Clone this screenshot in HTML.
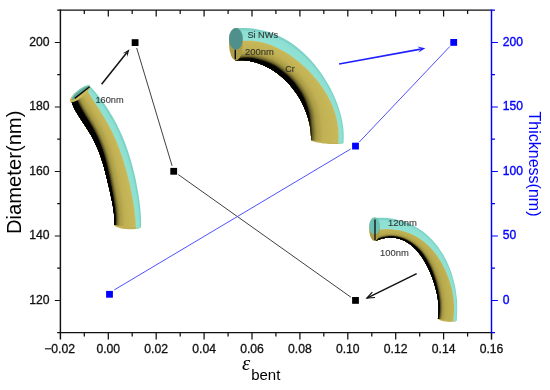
<!DOCTYPE html>
<html lang="en"><head><meta charset="utf-8"><title>Diameter and thickness vs bending strain</title>
<style>html,body{margin:0;padding:0;background:#fff;}body{width:550px;height:390px;overflow:hidden;}svg{display:block;filter:blur(0.3px);}</style>
</head><body>
<svg width="550" height="390" viewBox="0 0 550 390" font-family="'Liberation Sans', Arial, sans-serif">
<rect width="550" height="390" fill="#fff"/>
<path d="M114.2,224.9L114.4,225.4L114.8,225.8L115.4,226.3L116.2,226.8L117.2,227.2L118.4,227.6L119.8,228.0L121.3,228.4L122.9,228.7L124.6,228.9L126.3,229.1L128.0,229.2L129.8,229.3L131.5,229.3L133.2,229.3L134.7,229.1L136.2,229.0L137.5,228.7L138.6,228.4L139.5,228.1L140.3,227.7L140.8,227.3L141.1,226.9L141.1,226.4Z" fill="#c1b154"/><path d="M135.7,226.8L136.2,229.0L137.5,228.7L138.6,228.4L139.5,228.1L140.3,227.7L140.8,227.3L141.1,226.9L141.1,226.4Z" fill="#8bdfd1"/>
<path d="M88.6,84.5L91.5,87.8L94.4,91.1L97.2,94.5L100.0,98.0L102.6,101.5L105.2,105.1L107.7,108.8L110.0,112.5L112.3,116.3L114.5,120.2L116.6,124.1L118.5,128.0L120.4,132.0L122.2,136.1L123.9,140.1L125.5,144.3L127.0,148.4L128.4,152.6L129.7,156.8L131.0,161.1L132.2,165.3L133.3,169.6L134.4,173.9L135.4,178.2L136.3,182.5L137.1,186.9L137.9,191.2L138.6,195.6L139.3,200.0L139.8,204.3L140.3,208.7L140.7,213.1L141.0,217.5L141.1,222.0L141.1,226.4L135.7,226.8L135.6,222.5L135.3,218.2L134.9,214.0L134.4,209.7L133.8,205.5L133.1,201.3L132.4,197.1L131.6,192.9L130.7,188.7L129.8,184.5L128.8,180.3L127.8,176.2L126.7,172.0L125.5,167.9L124.3,163.7L123.1,159.6L121.7,155.6L120.3,151.5L118.9,147.5L117.3,143.5L115.6,139.6L113.9,135.7L112.1,131.8L110.1,128.0L108.1,124.3L106.0,120.5L103.9,116.9L101.6,113.2L99.4,109.6L97.0,106.0L94.7,102.4L92.4,98.8L90.1,95.2L87.8,91.6L85.7,87.9Z" fill="#7cd2c5"/>
<path d="M87.8,85.4L90.6,88.7L93.3,92.1L96.0,95.6L98.6,99.1L101.2,102.6L103.7,106.2L106.2,109.9L108.5,113.6L110.7,117.4L112.9,121.2L115.0,125.1L116.9,129.0L118.8,132.9L120.5,136.9L122.2,141.0L123.8,145.1L125.3,149.2L126.7,153.3L128.1,157.5L129.3,161.7L130.5,166.0L131.7,170.2L132.7,174.5L133.7,178.7L134.7,183.0L135.5,187.3L136.3,191.6L137.1,196.0L137.7,200.3L138.3,204.6L138.8,209.0L139.3,213.3L139.6,217.7L139.7,222.1L139.8,226.5L135.7,226.8L135.6,222.5L135.3,218.2L134.9,214.0L134.4,209.7L133.8,205.5L133.1,201.3L132.4,197.1L131.6,192.9L130.7,188.7L129.8,184.5L128.8,180.3L127.8,176.2L126.7,172.0L125.5,167.9L124.3,163.7L123.1,159.6L121.7,155.6L120.3,151.5L118.9,147.5L117.3,143.5L115.6,139.6L113.9,135.7L112.1,131.8L110.1,128.0L108.1,124.3L106.0,120.5L103.9,116.9L101.6,113.2L99.4,109.6L97.0,106.0L94.7,102.4L92.4,98.8L90.1,95.2L87.8,91.6L85.7,87.9Z" fill="#8ce0d2"/>
<path d="M87.1,86.2L89.7,89.7L92.2,93.2L94.8,96.7L97.3,100.2L99.8,103.8L102.3,107.4L104.7,111.0L107.0,114.7L109.2,118.4L111.3,122.2L113.3,126.1L115.3,129.9L117.1,133.9L118.9,137.8L120.6,141.8L122.2,145.9L123.7,150.0L125.1,154.1L126.4,158.2L127.7,162.4L128.9,166.6L130.0,170.8L131.1,175.0L132.1,179.3L133.0,183.5L133.9,187.8L134.7,192.1L135.5,196.3L136.2,200.6L136.8,204.9L137.4,209.2L137.8,213.5L138.1,217.9L138.3,222.2L138.4,226.6L135.7,226.8L135.6,222.5L135.3,218.2L134.9,214.0L134.4,209.7L133.8,205.5L133.1,201.3L132.4,197.1L131.6,192.9L130.7,188.7L129.8,184.5L128.8,180.3L127.8,176.2L126.7,172.0L125.5,167.9L124.3,163.7L123.1,159.6L121.7,155.6L120.3,151.5L118.9,147.5L117.3,143.5L115.6,139.6L113.9,135.7L112.1,131.8L110.1,128.0L108.1,124.3L106.0,120.5L103.9,116.9L101.6,113.2L99.4,109.6L97.0,106.0L94.7,102.4L92.4,98.8L90.1,95.2L87.8,91.6L85.7,87.9Z" fill="#8ee0d3"/>
<path d="M86.4,87.1L88.7,90.6L91.1,94.2L93.6,97.7L96.0,101.3L98.4,104.9L100.8,108.5L103.1,112.1L105.4,115.8L107.6,119.5L109.7,123.2L111.7,127.0L113.7,130.9L115.5,134.8L117.3,138.7L118.9,142.7L120.5,146.7L122.0,150.7L123.4,154.8L124.7,158.9L126.0,163.1L127.2,167.2L128.3,171.4L129.4,175.6L130.4,179.8L131.4,184.0L132.3,188.2L133.2,192.5L133.9,196.7L134.7,201.0L135.3,205.2L135.9,209.5L136.4,213.7L136.7,218.0L137.0,222.4L137.0,226.7L135.7,226.8L135.6,222.5L135.3,218.2L134.9,214.0L134.4,209.7L133.8,205.5L133.1,201.3L132.4,197.1L131.6,192.9L130.7,188.7L129.8,184.5L128.8,180.3L127.8,176.2L126.7,172.0L125.5,167.9L124.3,163.7L123.1,159.6L121.7,155.6L120.3,151.5L118.9,147.5L117.3,143.5L115.6,139.6L113.9,135.7L112.1,131.8L110.1,128.0L108.1,124.3L106.0,120.5L103.9,116.9L101.6,113.2L99.4,109.6L97.0,106.0L94.7,102.4L92.4,98.8L90.1,95.2L87.8,91.6L85.7,87.9Z" fill="#91e2d4"/>
<path d="M85.7,87.9L87.8,91.6L90.1,95.2L92.4,98.8L94.7,102.4L97.0,106.0L99.4,109.6L101.6,113.2L103.9,116.9L106.0,120.5L108.1,124.3L110.1,128.0L112.1,131.8L113.9,135.7L115.6,139.6L117.3,143.5L118.9,147.5L120.3,151.5L121.7,155.6L123.1,159.6L124.3,163.7L125.5,167.9L126.7,172.0L127.8,176.2L128.8,180.3L129.8,184.5L130.7,188.7L131.6,192.9L132.4,197.1L133.1,201.3L133.8,205.5L134.4,209.7L134.9,214.0L135.3,218.2L135.6,222.5L135.7,226.8L114.2,224.9L114.4,220.9L114.3,216.9L113.9,213.1L113.4,209.3L112.8,205.5L112.1,201.7L111.3,198.0L110.5,194.2L109.7,190.5L108.8,186.7L107.9,182.9L107.0,179.1L106.1,175.4L105.1,171.6L104.1,167.8L103.1,164.1L101.9,160.4L100.7,156.7L99.4,153.0L98.0,149.4L96.4,145.9L94.8,142.4L93.1,139.0L91.2,135.6L89.2,132.2L87.2,129.0L85.1,125.7L82.9,122.5L80.8,119.3L78.7,116.0L76.7,112.8L74.8,109.4L73.2,106.0L71.9,102.5L71.0,98.7Z" fill="#c9b95a"/>
<path d="M85.3,88.2L87.4,91.8L89.6,95.5L91.9,99.1L94.2,102.7L96.5,106.3L98.8,109.9L101.1,113.5L103.3,117.1L105.5,120.8L107.6,124.5L109.5,128.3L111.4,132.1L113.3,135.9L115.0,139.8L116.6,143.7L118.2,147.7L119.6,151.7L121.0,155.8L122.3,159.8L123.5,163.9L124.7,168.0L125.8,172.2L126.9,176.3L127.9,180.4L128.8,184.6L129.8,188.8L130.6,192.9L131.4,197.1L132.2,201.3L132.8,205.5L133.4,209.7L133.9,213.9L134.3,218.1L134.5,222.4L134.6,226.7L114.2,224.9L114.4,220.9L114.3,216.9L113.9,213.1L113.4,209.3L112.8,205.5L112.1,201.7L111.3,198.0L110.5,194.2L109.7,190.5L108.8,186.7L107.9,182.9L107.0,179.1L106.1,175.4L105.1,171.6L104.1,167.8L103.1,164.1L101.9,160.4L100.7,156.7L99.4,153.0L98.0,149.4L96.4,145.9L94.8,142.4L93.1,139.0L91.2,135.6L89.2,132.2L87.2,129.0L85.1,125.7L82.9,122.5L80.8,119.3L78.7,116.0L76.7,112.8L74.8,109.4L73.2,106.0L71.9,102.5L71.0,98.7Z" fill="#c8b859"/>
<path d="M85.0,88.4L87.0,92.1L89.2,95.8L91.4,99.4L93.7,102.9L96.0,106.5L98.3,110.1L100.6,113.7L102.8,117.4L104.9,121.0L107.0,124.8L109.0,128.5L110.8,132.3L112.6,136.1L114.3,140.0L115.9,143.9L117.5,147.9L118.9,151.9L120.2,155.9L121.5,160.0L122.7,164.1L123.9,168.2L125.0,172.3L126.0,176.4L127.0,180.6L127.9,184.7L128.8,188.9L129.7,193.0L130.4,197.2L131.2,201.3L131.8,205.5L132.4,209.7L132.9,213.9L133.2,218.1L133.5,222.3L133.5,226.6L114.2,224.9L114.4,220.9L114.3,216.9L113.9,213.1L113.4,209.3L112.8,205.5L112.1,201.7L111.3,198.0L110.5,194.2L109.7,190.5L108.8,186.7L107.9,182.9L107.0,179.1L106.1,175.4L105.1,171.6L104.1,167.8L103.1,164.1L101.9,160.4L100.7,156.7L99.4,153.0L98.0,149.4L96.4,145.9L94.8,142.4L93.1,139.0L91.2,135.6L89.2,132.2L87.2,129.0L85.1,125.7L82.9,122.5L80.8,119.3L78.7,116.0L76.7,112.8L74.8,109.4L73.2,106.0L71.9,102.5L71.0,98.7Z" fill="#c7b758"/>
<path d="M84.6,88.7L86.6,92.4L88.7,96.0L91.0,99.6L93.2,103.2L95.5,106.8L97.8,110.4L100.0,114.0L102.2,117.6L104.3,121.3L106.4,125.0L108.4,128.7L110.2,132.5L112.0,136.4L113.7,140.2L115.3,144.2L116.8,148.1L118.2,152.1L119.5,156.1L120.7,160.2L121.9,164.2L123.0,168.3L124.1,172.4L125.1,176.5L126.1,180.7L127.0,184.8L127.9,188.9L128.7,193.1L129.5,197.2L130.2,201.3L130.8,205.5L131.4,209.6L131.9,213.8L132.2,218.0L132.4,222.3L132.4,226.5L114.2,224.9L114.4,220.9L114.3,216.9L113.9,213.1L113.4,209.3L112.8,205.5L112.1,201.7L111.3,198.0L110.5,194.2L109.7,190.5L108.8,186.7L107.9,182.9L107.0,179.1L106.1,175.4L105.1,171.6L104.1,167.8L103.1,164.1L101.9,160.4L100.7,156.7L99.4,153.0L98.0,149.4L96.4,145.9L94.8,142.4L93.1,139.0L91.2,135.6L89.2,132.2L87.2,129.0L85.1,125.7L82.9,122.5L80.8,119.3L78.7,116.0L76.7,112.8L74.8,109.4L73.2,106.0L71.9,102.5L71.0,98.7Z" fill="#c6b658"/>
<path d="M84.2,89.0L86.2,92.7L88.3,96.3L90.5,99.9L92.7,103.5L95.0,107.1L97.3,110.7L99.5,114.3L101.7,117.9L103.8,121.6L105.8,125.2L107.8,129.0L109.6,132.8L111.4,136.6L113.0,140.5L114.6,144.4L116.1,148.3L117.4,152.3L118.7,156.3L120.0,160.3L121.1,164.4L122.2,168.5L123.2,172.6L124.2,176.7L125.2,180.8L126.1,184.9L126.9,189.0L127.8,193.1L128.5,197.2L129.2,201.4L129.8,205.5L130.4,209.6L130.8,213.8L131.2,218.0L131.3,222.2L131.3,226.4L114.2,224.9L114.4,220.9L114.3,216.9L113.9,213.1L113.4,209.3L112.8,205.5L112.1,201.7L111.3,198.0L110.5,194.2L109.7,190.5L108.8,186.7L107.9,182.9L107.0,179.1L106.1,175.4L105.1,171.6L104.1,167.8L103.1,164.1L101.9,160.4L100.7,156.7L99.4,153.0L98.0,149.4L96.4,145.9L94.8,142.4L93.1,139.0L91.2,135.6L89.2,132.2L87.2,129.0L85.1,125.7L82.9,122.5L80.8,119.3L78.7,116.0L76.7,112.8L74.8,109.4L73.2,106.0L71.9,102.5L71.0,98.7Z" fill="#c5b557"/>
<path d="M83.9,89.2L85.8,93.0L87.9,96.6L90.0,100.2L92.3,103.8L94.5,107.4L96.8,110.9L99.0,114.5L101.1,118.2L103.2,121.8L105.2,125.5L107.2,129.2L109.0,133.0L110.7,136.8L112.4,140.7L113.9,144.6L115.4,148.5L116.7,152.5L118.0,156.5L119.2,160.5L120.3,164.6L121.4,168.6L122.4,172.7L123.4,176.8L124.3,180.9L125.2,185.0L126.0,189.1L126.8,193.2L127.5,197.3L128.2,201.4L128.8,205.5L129.4,209.6L129.8,213.7L130.1,217.9L130.3,222.1L130.3,226.3L114.2,224.9L114.4,220.9L114.3,216.9L113.9,213.1L113.4,209.3L112.8,205.5L112.1,201.7L111.3,198.0L110.5,194.2L109.7,190.5L108.8,186.7L107.9,182.9L107.0,179.1L106.1,175.4L105.1,171.6L104.1,167.8L103.1,164.1L101.9,160.4L100.7,156.7L99.4,153.0L98.0,149.4L96.4,145.9L94.8,142.4L93.1,139.0L91.2,135.6L89.2,132.2L87.2,129.0L85.1,125.7L82.9,122.5L80.8,119.3L78.7,116.0L76.7,112.8L74.8,109.4L73.2,106.0L71.9,102.5L71.0,98.7Z" fill="#c5b557"/>
<path d="M83.5,89.5L85.4,93.2L87.4,96.9L89.6,100.5L91.8,104.1L94.0,107.6L96.2,111.2L98.4,114.8L100.6,118.4L102.7,122.1L104.7,125.7L106.6,129.4L108.4,133.2L110.1,137.0L111.7,140.9L113.2,144.8L114.7,148.7L116.0,152.7L117.2,156.7L118.4,160.7L119.5,164.7L120.5,168.8L121.5,172.8L122.5,176.9L123.4,181.0L124.3,185.1L125.1,189.2L125.8,193.2L126.6,197.3L127.2,201.4L127.8,205.5L128.4,209.6L128.8,213.7L129.1,217.8L129.2,222.0L129.2,226.2L114.2,224.9L114.4,220.9L114.3,216.9L113.9,213.1L113.4,209.3L112.8,205.5L112.1,201.7L111.3,198.0L110.5,194.2L109.7,190.5L108.8,186.7L107.9,182.9L107.0,179.1L106.1,175.4L105.1,171.6L104.1,167.8L103.1,164.1L101.9,160.4L100.7,156.7L99.4,153.0L98.0,149.4L96.4,145.9L94.8,142.4L93.1,139.0L91.2,135.6L89.2,132.2L87.2,129.0L85.1,125.7L82.9,122.5L80.8,119.3L78.7,116.0L76.7,112.8L74.8,109.4L73.2,106.0L71.9,102.5L71.0,98.7Z" fill="#c4b456"/>
<path d="M83.1,89.8L85.0,93.5L87.0,97.2L89.1,100.8L91.3,104.4L93.5,107.9L95.7,111.5L97.9,115.1L100.0,118.7L102.1,122.3L104.1,126.0L106.0,129.7L107.8,133.4L109.5,137.3L111.1,141.1L112.6,145.0L114.0,148.9L115.3,152.9L116.5,156.8L117.6,160.9L118.7,164.9L119.7,168.9L120.7,173.0L121.6,177.0L122.5,181.1L123.3,185.2L124.1,189.2L124.9,193.3L125.6,197.4L126.3,201.4L126.8,205.5L127.3,209.6L127.8,213.7L128.0,217.8L128.2,221.9L128.1,226.1L114.2,224.9L114.4,220.9L114.3,216.9L113.9,213.1L113.4,209.3L112.8,205.5L112.1,201.7L111.3,198.0L110.5,194.2L109.7,190.5L108.8,186.7L107.9,182.9L107.0,179.1L106.1,175.4L105.1,171.6L104.1,167.8L103.1,164.1L101.9,160.4L100.7,156.7L99.4,153.0L98.0,149.4L96.4,145.9L94.8,142.4L93.1,139.0L91.2,135.6L89.2,132.2L87.2,129.0L85.1,125.7L82.9,122.5L80.8,119.3L78.7,116.0L76.7,112.8L74.8,109.4L73.2,106.0L71.9,102.5L71.0,98.7Z" fill="#c3b356"/>
<path d="M82.8,90.1L84.6,93.8L86.6,97.4L88.6,101.1L90.8,104.6L93.0,108.2L95.2,111.8L97.4,115.3L99.5,118.9L101.5,122.6L103.5,126.2L105.4,129.9L107.2,133.7L108.8,137.5L110.4,141.3L111.9,145.2L113.3,149.1L114.5,153.0L115.7,157.0L116.8,161.0L117.9,165.1L118.8,169.1L119.8,173.1L120.7,177.2L121.6,181.2L122.4,185.3L123.2,189.3L123.9,193.4L124.6,197.4L125.3,201.4L125.8,205.5L126.3,209.5L126.7,213.6L127.0,217.7L127.1,221.8L127.0,226.0L114.2,224.9L114.4,220.9L114.3,216.9L113.9,213.1L113.4,209.3L112.8,205.5L112.1,201.7L111.3,198.0L110.5,194.2L109.7,190.5L108.8,186.7L107.9,182.9L107.0,179.1L106.1,175.4L105.1,171.6L104.1,167.8L103.1,164.1L101.9,160.4L100.7,156.7L99.4,153.0L98.0,149.4L96.4,145.9L94.8,142.4L93.1,139.0L91.2,135.6L89.2,132.2L87.2,129.0L85.1,125.7L82.9,122.5L80.8,119.3L78.7,116.0L76.7,112.8L74.8,109.4L73.2,106.0L71.9,102.5L71.0,98.7Z" fill="#c2b255"/>
<path d="M82.4,90.3L84.2,94.1L86.1,97.7L88.2,101.3L90.3,104.9L92.5,108.5L94.7,112.0L96.8,115.6L98.9,119.2L101.0,122.8L102.9,126.5L104.8,130.2L106.6,133.9L108.2,137.7L109.8,141.5L111.2,145.4L112.6,149.3L113.8,153.2L115.0,157.2L116.1,161.2L117.1,165.2L118.0,169.2L119.0,173.3L119.8,177.3L120.7,181.3L121.5,185.4L122.3,189.4L123.0,193.4L123.7,197.4L124.3,201.5L124.8,205.5L125.3,209.5L125.7,213.6L126.0,217.6L126.0,221.8L125.9,225.9L114.2,224.9L114.4,220.9L114.3,216.9L113.9,213.1L113.4,209.3L112.8,205.5L112.1,201.7L111.3,198.0L110.5,194.2L109.7,190.5L108.8,186.7L107.9,182.9L107.0,179.1L106.1,175.4L105.1,171.6L104.1,167.8L103.1,164.1L101.9,160.4L100.7,156.7L99.4,153.0L98.0,149.4L96.4,145.9L94.8,142.4L93.1,139.0L91.2,135.6L89.2,132.2L87.2,129.0L85.1,125.7L82.9,122.5L80.8,119.3L78.7,116.0L76.7,112.8L74.8,109.4L73.2,106.0L71.9,102.5L71.0,98.7Z" fill="#c1b154"/>
<path d="M82.0,90.6L83.8,94.3L85.7,98.0L87.7,101.6L89.8,105.2L92.0,108.7L94.2,112.3L96.3,115.9L98.4,119.4L100.4,123.1L102.4,126.7L104.2,130.4L106.0,134.1L107.6,137.9L109.1,141.7L110.5,145.6L111.9,149.5L113.1,153.4L114.2,157.4L115.3,161.4L116.3,165.4L117.2,169.4L118.1,173.4L119.0,177.4L119.8,181.4L120.6,185.5L121.3,189.5L122.0,193.5L122.7,197.5L123.3,201.5L123.9,205.5L124.3,209.5L124.7,213.5L124.9,217.6L125.0,221.7L124.8,225.8L114.2,224.9L114.4,220.9L114.3,216.9L113.9,213.1L113.4,209.3L112.8,205.5L112.1,201.7L111.3,198.0L110.5,194.2L109.7,190.5L108.8,186.7L107.9,182.9L107.0,179.1L106.1,175.4L105.1,171.6L104.1,167.8L103.1,164.1L101.9,160.4L100.7,156.7L99.4,153.0L98.0,149.4L96.4,145.9L94.8,142.4L93.1,139.0L91.2,135.6L89.2,132.2L87.2,129.0L85.1,125.7L82.9,122.5L80.8,119.3L78.7,116.0L76.7,112.8L74.8,109.4L73.2,106.0L71.9,102.5L71.0,98.7Z" fill="#bfaf53"/>
<path d="M81.4,91.0L83.1,94.8L85.0,98.5L87.0,102.1L89.1,105.6L91.2,109.2L93.4,112.7L95.5,116.2L97.6,119.8L99.6,123.4L101.6,127.0L103.4,130.7L105.2,134.4L106.8,138.2L108.3,142.0L109.7,145.8L111.0,149.7L112.3,153.6L113.4,157.6L114.4,161.6L115.4,165.5L116.3,169.5L117.2,173.5L118.1,177.5L118.9,181.6L119.7,185.6L120.5,189.6L121.2,193.5L121.8,197.5L122.4,201.5L123.0,205.5L123.4,209.5L123.8,213.5L124.0,217.5L124.1,221.6L123.9,225.8L114.2,224.9L114.4,220.9L114.3,216.9L113.9,213.1L113.4,209.3L112.8,205.5L112.1,201.7L111.3,198.0L110.5,194.2L109.7,190.5L108.8,186.7L107.9,182.9L107.0,179.1L106.1,175.4L105.1,171.6L104.1,167.8L103.1,164.1L101.9,160.4L100.7,156.7L99.4,153.0L98.0,149.4L96.4,145.9L94.8,142.4L93.1,139.0L91.2,135.6L89.2,132.2L87.2,129.0L85.1,125.7L82.9,122.5L80.8,119.3L78.7,116.0L76.7,112.8L74.8,109.4L73.2,106.0L71.9,102.5L71.0,98.7Z" fill="#baab50"/>
<path d="M80.8,91.5L82.4,95.2L84.3,98.9L86.3,102.5L88.3,106.1L90.5,109.6L92.6,113.1L94.7,116.6L96.8,120.2L98.8,123.8L100.8,127.4L102.7,131.0L104.4,134.7L106.0,138.5L107.5,142.3L108.9,146.1L110.2,150.0L111.4,153.9L112.6,157.8L113.6,161.7L114.6,165.7L115.5,169.7L116.4,173.7L117.2,177.7L118.1,181.7L118.8,185.6L119.6,189.6L120.3,193.6L120.9,197.6L121.6,201.5L122.1,205.5L122.6,209.5L122.9,213.5L123.2,217.5L123.2,221.5L123.1,225.7L114.2,224.9L114.4,220.9L114.3,216.9L113.9,213.1L113.4,209.3L112.8,205.5L112.1,201.7L111.3,198.0L110.5,194.2L109.7,190.5L108.8,186.7L107.9,182.9L107.0,179.1L106.1,175.4L105.1,171.6L104.1,167.8L103.1,164.1L101.9,160.4L100.7,156.7L99.4,153.0L98.0,149.4L96.4,145.9L94.8,142.4L93.1,139.0L91.2,135.6L89.2,132.2L87.2,129.0L85.1,125.7L82.9,122.5L80.8,119.3L78.7,116.0L76.7,112.8L74.8,109.4L73.2,106.0L71.9,102.5L71.0,98.7Z" fill="#b6a74e"/>
<path d="M80.2,91.9L81.8,95.7L83.6,99.4L85.5,103.0L87.6,106.5L89.7,110.0L91.8,113.5L93.9,117.0L96.0,120.6L98.1,124.1L100.0,127.7L101.9,131.3L103.6,135.0L105.2,138.8L106.7,142.5L108.1,146.3L109.4,150.2L110.6,154.1L111.7,158.0L112.8,161.9L113.7,165.9L114.6,169.9L115.5,173.8L116.4,177.8L117.2,181.8L118.0,185.7L118.7,189.7L119.4,193.7L120.1,197.6L120.7,201.5L121.2,205.5L121.7,209.4L122.1,213.4L122.3,217.4L122.3,221.5L122.2,225.6L114.2,224.9L114.4,220.9L114.3,216.9L113.9,213.1L113.4,209.3L112.8,205.5L112.1,201.7L111.3,198.0L110.5,194.2L109.7,190.5L108.8,186.7L107.9,182.9L107.0,179.1L106.1,175.4L105.1,171.6L104.1,167.8L103.1,164.1L101.9,160.4L100.7,156.7L99.4,153.0L98.0,149.4L96.4,145.9L94.8,142.4L93.1,139.0L91.2,135.6L89.2,132.2L87.2,129.0L85.1,125.7L82.9,122.5L80.8,119.3L78.7,116.0L76.7,112.8L74.8,109.4L73.2,106.0L71.9,102.5L71.0,98.7Z" fill="#b2a44b"/>
<path d="M79.6,92.4L81.1,96.2L82.9,99.8L84.8,103.4L86.8,106.9L88.9,110.4L91.1,113.9L93.2,117.4L95.2,120.9L97.3,124.5L99.2,128.0L101.1,131.6L102.8,135.3L104.4,139.0L105.9,142.8L107.3,146.6L108.6,150.4L109.8,154.3L110.9,158.2L111.9,162.1L112.9,166.1L113.8,170.0L114.7,174.0L115.5,177.9L116.3,181.9L117.1,185.8L117.8,189.8L118.5,193.7L119.2,197.6L119.8,201.6L120.4,205.5L120.8,209.4L121.2,213.4L121.4,217.4L121.5,221.4L121.3,225.5L114.2,224.9L114.4,220.9L114.3,216.9L113.9,213.1L113.4,209.3L112.8,205.5L112.1,201.7L111.3,198.0L110.5,194.2L109.7,190.5L108.8,186.7L107.9,182.9L107.0,179.1L106.1,175.4L105.1,171.6L104.1,167.8L103.1,164.1L101.9,160.4L100.7,156.7L99.4,153.0L98.0,149.4L96.4,145.9L94.8,142.4L93.1,139.0L91.2,135.6L89.2,132.2L87.2,129.0L85.1,125.7L82.9,122.5L80.8,119.3L78.7,116.0L76.7,112.8L74.8,109.4L73.2,106.0L71.9,102.5L71.0,98.7Z" fill="#aea049"/>
<path d="M79.0,92.8L80.5,96.6L82.2,100.3L84.1,103.8L86.1,107.4L88.2,110.8L90.3,114.3L92.4,117.8L94.5,121.3L96.5,124.8L98.4,128.4L100.3,132.0L102.0,135.6L103.6,139.3L105.1,143.1L106.5,146.8L107.8,150.6L109.0,154.5L110.1,158.4L111.1,162.3L112.0,166.2L112.9,170.2L113.8,174.1L114.7,178.0L115.5,182.0L116.2,185.9L117.0,189.8L117.7,193.8L118.3,197.7L118.9,201.6L119.5,205.5L119.9,209.4L120.3,213.3L120.5,217.3L120.6,221.3L120.4,225.4L114.2,224.9L114.4,220.9L114.3,216.9L113.9,213.1L113.4,209.3L112.8,205.5L112.1,201.7L111.3,198.0L110.5,194.2L109.7,190.5L108.8,186.7L107.9,182.9L107.0,179.1L106.1,175.4L105.1,171.6L104.1,167.8L103.1,164.1L101.9,160.4L100.7,156.7L99.4,153.0L98.0,149.4L96.4,145.9L94.8,142.4L93.1,139.0L91.2,135.6L89.2,132.2L87.2,129.0L85.1,125.7L82.9,122.5L80.8,119.3L78.7,116.0L76.7,112.8L74.8,109.4L73.2,106.0L71.9,102.5L71.0,98.7Z" fill="#a99c46"/>
<path d="M78.4,93.3L79.8,97.1L81.5,100.7L83.3,104.3L85.3,107.8L87.4,111.3L89.5,114.7L91.6,118.2L93.7,121.7L95.7,125.2L97.6,128.7L99.5,132.3L101.2,135.9L102.8,139.6L104.3,143.3L105.7,147.1L107.0,150.9L108.2,154.7L109.3,158.6L110.3,162.5L111.2,166.4L112.1,170.3L113.0,174.2L113.8,178.2L114.6,182.1L115.3,186.0L116.1,189.9L116.8,193.8L117.4,197.7L118.1,201.6L118.6,205.5L119.1,209.4L119.4,213.3L119.7,217.3L119.7,221.3L119.5,225.4L114.2,224.9L114.4,220.9L114.3,216.9L113.9,213.1L113.4,209.3L112.8,205.5L112.1,201.7L111.3,198.0L110.5,194.2L109.7,190.5L108.8,186.7L107.9,182.9L107.0,179.1L106.1,175.4L105.1,171.6L104.1,167.8L103.1,164.1L101.9,160.4L100.7,156.7L99.4,153.0L98.0,149.4L96.4,145.9L94.8,142.4L93.1,139.0L91.2,135.6L89.2,132.2L87.2,129.0L85.1,125.7L82.9,122.5L80.8,119.3L78.7,116.0L76.7,112.8L74.8,109.4L73.2,106.0L71.9,102.5L71.0,98.7Z" fill="#9e9140"/>
<path d="M77.8,93.7L79.2,97.5L80.8,101.2L82.6,104.7L84.6,108.2L86.7,111.7L88.8,115.1L90.9,118.6L92.9,122.0L94.9,125.5L96.9,129.0L98.7,132.6L100.4,136.2L102.0,139.9L103.5,143.6L104.9,147.3L106.2,151.1L107.4,154.9L108.5,158.8L109.5,162.7L110.4,166.6L111.3,170.5L112.1,174.4L113.0,178.3L113.8,182.2L114.5,186.1L115.2,190.0L115.9,193.9L116.6,197.7L117.2,201.6L117.8,205.5L118.2,209.4L118.6,213.3L118.8,217.2L118.8,221.2L118.6,225.3L114.2,224.9L114.4,220.9L114.3,216.9L113.9,213.1L113.4,209.3L112.8,205.5L112.1,201.7L111.3,198.0L110.5,194.2L109.7,190.5L108.8,186.7L107.9,182.9L107.0,179.1L106.1,175.4L105.1,171.6L104.1,167.8L103.1,164.1L101.9,160.4L100.7,156.7L99.4,153.0L98.0,149.4L96.4,145.9L94.8,142.4L93.1,139.0L91.2,135.6L89.2,132.2L87.2,129.0L85.1,125.7L82.9,122.5L80.8,119.3L78.7,116.0L76.7,112.8L74.8,109.4L73.2,106.0L71.9,102.5L71.0,98.7Z" fill="#8a7f38"/>
<path d="M77.2,94.2L78.5,97.9L80.1,101.6L81.9,105.1L83.9,108.6L85.9,112.1L88.0,115.5L90.1,118.9L92.2,122.4L94.2,125.8L96.1,129.3L98.0,132.9L99.7,136.5L101.3,140.1L102.8,143.8L104.2,147.6L105.4,151.3L106.6,155.1L107.7,159.0L108.7,162.8L109.6,166.7L110.4,170.6L111.3,174.5L112.1,178.4L112.9,182.3L113.7,186.2L114.4,190.1L115.1,193.9L115.8,197.8L116.4,201.6L116.9,205.5L117.4,209.3L117.7,213.2L118.0,217.2L118.0,221.1L117.8,225.2L114.2,224.9L114.4,220.9L114.3,216.9L113.9,213.1L113.4,209.3L112.8,205.5L112.1,201.7L111.3,198.0L110.5,194.2L109.7,190.5L108.8,186.7L107.9,182.9L107.0,179.1L106.1,175.4L105.1,171.6L104.1,167.8L103.1,164.1L101.9,160.4L100.7,156.7L99.4,153.0L98.0,149.4L96.4,145.9L94.8,142.4L93.1,139.0L91.2,135.6L89.2,132.2L87.2,129.0L85.1,125.7L82.9,122.5L80.8,119.3L78.7,116.0L76.7,112.8L74.8,109.4L73.2,106.0L71.9,102.5L71.0,98.7Z" fill="#786d2e"/>
<path d="M76.6,94.6L77.9,98.4L79.4,102.0L81.2,105.6L83.2,109.0L85.2,112.5L87.3,115.9L89.4,119.3L91.4,122.7L93.4,126.2L95.4,129.7L97.2,133.2L98.9,136.8L100.5,140.4L102.0,144.1L103.4,147.8L104.7,151.5L105.8,155.3L106.9,159.2L107.9,163.0L108.8,166.9L109.6,170.8L110.5,174.6L111.3,178.5L112.1,182.4L112.8,186.3L113.6,190.1L114.3,194.0L114.9,197.8L115.5,201.7L116.1,205.5L116.5,209.3L116.9,213.2L117.1,217.1L117.2,221.1L116.9,225.1L114.2,224.9L114.4,220.9L114.3,216.9L113.9,213.1L113.4,209.3L112.8,205.5L112.1,201.7L111.3,198.0L110.5,194.2L109.7,190.5L108.8,186.7L107.9,182.9L107.0,179.1L106.1,175.4L105.1,171.6L104.1,167.8L103.1,164.1L101.9,160.4L100.7,156.7L99.4,153.0L98.0,149.4L96.4,145.9L94.8,142.4L93.1,139.0L91.2,135.6L89.2,132.2L87.2,129.0L85.1,125.7L82.9,122.5L80.8,119.3L78.7,116.0L76.7,112.8L74.8,109.4L73.2,106.0L71.9,102.5L71.0,98.7Z" fill="#4e471d"/>
<path d="M75.8,95.2L77.0,99.0L78.5,102.6L80.3,106.1L82.2,109.6L84.2,113.0L86.3,116.4L88.3,119.8L90.4,123.2L92.4,126.6L94.3,130.1L96.2,133.6L97.9,137.2L99.5,140.8L100.9,144.4L102.3,148.1L103.6,151.8L104.7,155.6L105.8,159.4L106.8,163.3L107.7,167.1L108.5,171.0L109.4,174.8L110.2,178.7L110.9,182.5L111.7,186.4L112.4,190.2L113.1,194.1L113.8,197.9L114.4,201.7L114.9,205.5L115.4,209.3L115.8,213.2L116.0,217.0L116.0,221.0L115.7,225.0L114.2,224.9L114.4,220.9L114.3,216.9L113.9,213.1L113.4,209.3L112.8,205.5L112.1,201.7L111.3,198.0L110.5,194.2L109.7,190.5L108.8,186.7L107.9,182.9L107.0,179.1L106.1,175.4L105.1,171.6L104.1,167.8L103.1,164.1L101.9,160.4L100.7,156.7L99.4,153.0L98.0,149.4L96.4,145.9L94.8,142.4L93.1,139.0L91.2,135.6L89.2,132.2L87.2,129.0L85.1,125.7L82.9,122.5L80.8,119.3L78.7,116.0L76.7,112.8L74.8,109.4L73.2,106.0L71.9,102.5L71.0,98.7Z" fill="#171508"/>
<path d="M75.4,95.5L76.6,99.2L78.1,102.9L79.8,106.4L81.7,109.9L83.7,113.3L85.8,116.7L87.9,120.0L89.9,123.4L91.9,126.8L93.9,130.3L95.7,133.8L97.4,137.3L99.0,140.9L100.5,144.6L101.8,148.3L103.1,152.0L104.2,155.8L105.3,159.5L106.3,163.4L107.2,167.2L108.0,171.1L108.8,174.9L109.6,178.8L110.4,182.6L111.2,186.4L111.9,190.3L112.6,194.1L113.2,197.9L113.8,201.7L114.4,205.5L114.9,209.3L115.2,213.1L115.4,217.0L115.5,220.9L115.2,225.0L114.2,224.9L114.4,220.9L114.3,216.9L113.9,213.1L113.4,209.3L112.8,205.5L112.1,201.7L111.3,198.0L110.5,194.2L109.7,190.5L108.8,186.7L107.9,182.9L107.0,179.1L106.1,175.4L105.1,171.6L104.1,167.8L103.1,164.1L101.9,160.4L100.7,156.7L99.4,153.0L98.0,149.4L96.4,145.9L94.8,142.4L93.1,139.0L91.2,135.6L89.2,132.2L87.2,129.0L85.1,125.7L82.9,122.5L80.8,119.3L78.7,116.0L76.7,112.8L74.8,109.4L73.2,106.0L71.9,102.5L71.0,98.7Z" fill="#000000"/>
<path d="M74.6,96.1L75.7,99.9L77.1,103.5L78.8,107.0L80.7,110.5L82.7,113.8L84.8,117.2L86.9,120.5L89.0,123.9L91.0,127.3L92.9,130.7L94.8,134.1L96.5,137.7L98.2,141.2L99.7,144.8L101.1,148.5L102.4,152.2L103.5,155.9L104.6,159.7L105.6,163.5L106.6,167.3L107.4,171.2L108.3,175.0L109.1,178.8L109.9,182.7L110.7,186.5L111.4,190.3L112.2,194.1L112.9,197.9L113.5,201.7L114.1,205.5L114.6,209.3L115.0,213.1L115.2,217.0L115.2,220.9L115.0,225.0L114.2,224.9L114.4,220.9L114.3,216.9L113.9,213.1L113.4,209.3L112.8,205.5L112.1,201.7L111.3,198.0L110.5,194.2L109.7,190.5L108.8,186.7L107.9,182.9L107.0,179.1L106.1,175.4L105.1,171.6L104.1,167.8L103.1,164.1L101.9,160.4L100.7,156.7L99.4,153.0L98.0,149.4L96.4,145.9L94.8,142.4L93.1,139.0L91.2,135.6L89.2,132.2L87.2,129.0L85.1,125.7L82.9,122.5L80.8,119.3L78.7,116.0L76.7,112.8L74.8,109.4L73.2,106.0L71.9,102.5L71.0,98.7Z" fill="#000000"/>
<path d="M73.7,96.8L74.7,100.5L76.1,104.1L77.8,107.6L79.7,111.0L81.7,114.4L83.8,117.7L85.9,121.0L88.0,124.3L90.0,127.7L92.0,131.1L93.9,134.5L95.7,138.0L97.3,141.5L98.9,145.1L100.3,148.7L101.6,152.4L102.8,156.1L103.9,159.9L105.0,163.7L105.9,167.5L106.9,171.3L107.8,175.1L108.6,178.9L109.4,182.7L110.2,186.5L111.0,190.3L111.8,194.1L112.5,197.9L113.2,201.7L113.8,205.5L114.3,209.3L114.7,213.1L115.0,217.0L115.0,220.9L114.8,224.9L114.2,224.9L114.4,220.9L114.3,216.9L113.9,213.1L113.4,209.3L112.8,205.5L112.1,201.7L111.3,198.0L110.5,194.2L109.7,190.5L108.8,186.7L107.9,182.9L107.0,179.1L106.1,175.4L105.1,171.6L104.1,167.8L103.1,164.1L101.9,160.4L100.7,156.7L99.4,153.0L98.0,149.4L96.4,145.9L94.8,142.4L93.1,139.0L91.2,135.6L89.2,132.2L87.2,129.0L85.1,125.7L82.9,122.5L80.8,119.3L78.7,116.0L76.7,112.8L74.8,109.4L73.2,106.0L71.9,102.5L71.0,98.7Z" fill="#000000"/>
<path d="M72.8,97.4L73.8,101.2L75.2,104.8L76.8,108.2L78.7,111.6L80.7,114.9L82.8,118.2L84.9,121.5L87.0,124.8L89.1,128.1L91.1,131.5L93.0,134.9L94.8,138.3L96.5,141.8L98.1,145.4L99.5,149.0L100.9,152.6L102.1,156.3L103.3,160.0L104.3,163.8L105.3,167.6L106.3,171.4L107.2,175.2L108.1,179.0L108.9,182.8L109.8,186.6L110.6,190.4L111.3,194.2L112.1,197.9L112.8,201.7L113.4,205.5L114.0,209.3L114.4,213.1L114.7,217.0L114.8,220.9L114.6,224.9L114.2,224.9L114.4,220.9L114.3,216.9L113.9,213.1L113.4,209.3L112.8,205.5L112.1,201.7L111.3,198.0L110.5,194.2L109.7,190.5L108.8,186.7L107.9,182.9L107.0,179.1L106.1,175.4L105.1,171.6L104.1,167.8L103.1,164.1L101.9,160.4L100.7,156.7L99.4,153.0L98.0,149.4L96.4,145.9L94.8,142.4L93.1,139.0L91.2,135.6L89.2,132.2L87.2,129.0L85.1,125.7L82.9,122.5L80.8,119.3L78.7,116.0L76.7,112.8L74.8,109.4L73.2,106.0L71.9,102.5L71.0,98.7Z" fill="#000000"/>
<path d="M71.9,98.1L72.9,101.8L74.2,105.4L75.8,108.8L77.7,112.2L79.7,115.5L81.8,118.7L83.9,122.0L86.1,125.3L88.1,128.5L90.2,131.9L92.1,135.2L93.9,138.6L95.6,142.1L97.2,145.6L98.7,149.2L100.1,152.8L101.4,156.5L102.6,160.2L103.7,163.9L104.7,167.7L105.7,171.5L106.7,175.3L107.6,179.1L108.4,182.8L109.3,186.6L110.1,190.4L110.9,194.2L111.7,198.0L112.5,201.7L113.1,205.5L113.7,209.3L114.2,213.1L114.5,216.9L114.6,220.9L114.4,224.9L114.2,224.9L114.4,220.9L114.3,216.9L113.9,213.1L113.4,209.3L112.8,205.5L112.1,201.7L111.3,198.0L110.5,194.2L109.7,190.5L108.8,186.7L107.9,182.9L107.0,179.1L106.1,175.4L105.1,171.6L104.1,167.8L103.1,164.1L101.9,160.4L100.7,156.7L99.4,153.0L98.0,149.4L96.4,145.9L94.8,142.4L93.1,139.0L91.2,135.6L89.2,132.2L87.2,129.0L85.1,125.7L82.9,122.5L80.8,119.3L78.7,116.0L76.7,112.8L74.8,109.4L73.2,106.0L71.9,102.5L71.0,98.7Z" fill="#000000"/>
<g transform="translate(79.95,93.85) rotate(-38.1)"><ellipse rx="12.4" ry="4.0" fill="#c9b95a"/><path d="M-10.2,0.3 A10.2,3.1 0 0 1 12.1,0.3Z" fill="#5aa9a0"/><path d="M-8.9,-2.2 A12.0,3.7 0 0 1 12.200000000000001,-0.6" fill="none" stroke="#86d4c8" stroke-width="1.1"/><line x1="-6.9" y1="0.3" x2="12.0" y2="0.3" stroke="#0a0a0a" stroke-width="1.4"/></g>
<path d="M311.0,140.1L311.1,140.5L311.5,140.8L312.2,141.1L313.1,141.5L314.3,141.8L315.7,142.2L317.3,142.5L319.1,142.8L321.0,143.1L323.0,143.4L325.1,143.6L327.2,143.8L329.4,143.9L331.5,144.0L333.5,144.1L335.4,144.1L337.2,144.0L338.8,143.9L340.2,143.8L341.3,143.6L342.3,143.4L343.0,143.2L343.4,142.9L343.5,142.6Z" fill="#c1b154"/><path d="M338.3,143.0L338.8,143.9L340.2,143.8L341.3,143.6L342.3,143.4L343.0,143.2L343.4,142.9L343.5,142.6Z" fill="#8bdfd1"/>
<path d="M235.5,28.2L240.5,28.0L245.6,28.0L250.6,28.3L255.6,29.0L260.6,29.9L265.4,31.1L270.2,32.5L274.9,34.3L279.5,36.3L283.9,38.6L288.2,41.1L292.4,43.8L296.4,46.7L300.3,49.9L304.0,53.2L307.6,56.7L311.1,60.4L314.4,64.2L317.5,68.2L320.5,72.2L323.4,76.4L326.0,80.7L328.6,85.1L331.0,89.5L333.2,94.0L335.2,98.6L337.1,103.2L338.7,107.9L340.2,112.7L341.4,117.5L342.4,122.3L343.2,127.3L343.6,132.3L343.7,137.4L343.5,142.6L338.3,143.0L338.6,138.1L338.5,133.3L338.2,128.6L337.6,124.0L336.8,119.5L335.6,115.0L334.3,110.7L332.7,106.4L330.9,102.3L328.9,98.2L326.6,94.1L324.2,90.2L321.7,86.4L318.9,82.6L316.0,79.0L313.0,75.4L309.8,72.0L306.4,68.6L303.0,65.4L299.5,62.3L295.8,59.4L292.1,56.6L288.2,54.0L284.3,51.6L280.3,49.4L276.2,47.4L272.0,45.6L267.7,44.1L263.4,42.8L258.9,41.8L254.4,41.1L249.8,40.8L245.1,40.8L240.2,41.2L235.3,42.0Z" fill="#7cd2c5"/>
<path d="M235.4,31.0L240.4,30.6L245.5,30.6L250.4,30.8L255.4,31.4L260.2,32.3L265.0,33.4L269.7,34.8L274.3,36.6L278.8,38.5L283.2,40.7L287.4,43.2L291.5,45.8L295.5,48.7L299.4,51.8L303.1,55.1L306.7,58.5L310.1,62.0L313.4,65.8L316.6,69.6L319.6,73.6L322.5,77.7L325.2,81.8L327.7,86.1L330.1,90.4L332.3,94.8L334.4,99.3L336.2,103.9L337.9,108.5L339.3,113.1L340.5,117.9L341.5,122.7L342.2,127.5L342.6,132.5L342.7,137.5L342.5,142.7L338.3,143.0L338.6,138.1L338.5,133.3L338.2,128.6L337.6,124.0L336.8,119.5L335.6,115.0L334.3,110.7L332.7,106.4L330.9,102.3L328.9,98.2L326.6,94.1L324.2,90.2L321.7,86.4L318.9,82.6L316.0,79.0L313.0,75.4L309.8,72.0L306.4,68.6L303.0,65.4L299.5,62.3L295.8,59.4L292.1,56.6L288.2,54.0L284.3,51.6L280.3,49.4L276.2,47.4L272.0,45.6L267.7,44.1L263.4,42.8L258.9,41.8L254.4,41.1L249.8,40.8L245.1,40.8L240.2,41.2L235.3,42.0Z" fill="#8cdfd2"/>
<path d="M235.4,33.7L240.4,33.3L245.4,33.1L250.3,33.3L255.1,33.8L259.9,34.6L264.6,35.8L269.2,37.1L273.7,38.8L278.1,40.7L282.4,42.9L286.6,45.3L290.7,47.9L294.7,50.7L298.5,53.7L302.2,56.9L305.8,60.2L309.2,63.7L312.5,67.3L315.7,71.1L318.7,74.9L321.6,78.9L324.3,83.0L326.9,87.1L329.2,91.4L331.5,95.7L333.5,100.1L335.3,104.5L337.0,109.0L338.4,113.6L339.6,118.3L340.5,123.0L341.2,127.8L341.6,132.7L341.7,137.7L341.4,142.8L338.3,143.0L338.6,138.1L338.5,133.3L338.2,128.6L337.6,124.0L336.8,119.5L335.6,115.0L334.3,110.7L332.7,106.4L330.9,102.3L328.9,98.2L326.6,94.1L324.2,90.2L321.7,86.4L318.9,82.6L316.0,79.0L313.0,75.4L309.8,72.0L306.4,68.6L303.0,65.4L299.5,62.3L295.8,59.4L292.1,56.6L288.2,54.0L284.3,51.6L280.3,49.4L276.2,47.4L272.0,45.6L267.7,44.1L263.4,42.8L258.9,41.8L254.4,41.1L249.8,40.8L245.1,40.8L240.2,41.2L235.3,42.0Z" fill="#8ee0d2"/>
<path d="M235.4,36.5L240.3,35.9L245.3,35.7L250.1,35.8L254.9,36.3L259.6,37.0L264.2,38.1L268.7,39.4L273.1,41.1L277.5,42.9L281.7,45.1L285.9,47.4L289.9,49.9L293.8,52.7L297.6,55.6L301.3,58.7L304.9,61.9L308.3,65.3L311.6,68.9L314.8,72.5L317.8,76.3L320.7,80.1L323.4,84.1L326.0,88.2L328.4,92.3L330.6,96.5L332.6,100.8L334.5,105.2L336.1,109.6L337.5,114.1L338.6,118.7L339.5,123.3L340.2,128.1L340.6,132.9L340.6,137.8L340.4,142.8L338.3,143.0L338.6,138.1L338.5,133.3L338.2,128.6L337.6,124.0L336.8,119.5L335.6,115.0L334.3,110.7L332.7,106.4L330.9,102.3L328.9,98.2L326.6,94.1L324.2,90.2L321.7,86.4L318.9,82.6L316.0,79.0L313.0,75.4L309.8,72.0L306.4,68.6L303.0,65.4L299.5,62.3L295.8,59.4L292.1,56.6L288.2,54.0L284.3,51.6L280.3,49.4L276.2,47.4L272.0,45.6L267.7,44.1L263.4,42.8L258.9,41.8L254.4,41.1L249.8,40.8L245.1,40.8L240.2,41.2L235.3,42.0Z" fill="#8fe1d4"/>
<path d="M235.3,39.2L240.3,38.5L245.2,38.2L250.0,38.3L254.7,38.7L259.3,39.4L263.8,40.4L268.2,41.8L272.6,43.3L276.8,45.2L281.0,47.2L285.1,49.5L289.0,52.0L292.9,54.7L296.7,57.5L300.4,60.5L303.9,63.7L307.4,67.0L310.7,70.4L313.9,74.0L316.9,77.6L319.8,81.4L322.5,85.2L325.1,89.2L327.5,93.2L329.7,97.3L331.8,101.5L333.6,105.8L335.2,110.1L336.6,114.6L337.7,119.1L338.6,123.7L339.2,128.3L339.5,133.1L339.6,138.0L339.3,142.9L338.3,143.0L338.6,138.1L338.5,133.3L338.2,128.6L337.6,124.0L336.8,119.5L335.6,115.0L334.3,110.7L332.7,106.4L330.9,102.3L328.9,98.2L326.6,94.1L324.2,90.2L321.7,86.4L318.9,82.6L316.0,79.0L313.0,75.4L309.8,72.0L306.4,68.6L303.0,65.4L299.5,62.3L295.8,59.4L292.1,56.6L288.2,54.0L284.3,51.6L280.3,49.4L276.2,47.4L272.0,45.6L267.7,44.1L263.4,42.8L258.9,41.8L254.4,41.1L249.8,40.8L245.1,40.8L240.2,41.2L235.3,42.0Z" fill="#91e2d4"/>
<path d="M235.3,42.0L240.2,41.2L245.1,40.8L249.8,40.8L254.4,41.1L258.9,41.8L263.4,42.8L267.7,44.1L272.0,45.6L276.2,47.4L280.3,49.4L284.3,51.6L288.2,54.0L292.1,56.6L295.8,59.4L299.5,62.3L303.0,65.4L306.4,68.6L309.8,72.0L313.0,75.4L316.0,79.0L318.9,82.6L321.7,86.4L324.2,90.2L326.6,94.1L328.9,98.2L330.9,102.3L332.7,106.4L334.3,110.7L335.6,115.0L336.8,119.5L337.6,124.0L338.2,128.6L338.5,133.3L338.6,138.1L338.3,143.0L311.0,140.1L311.0,136.6L310.8,133.1L310.4,129.6L309.9,126.1L309.2,122.7L308.4,119.3L307.4,116.0L306.3,112.7L305.0,109.5L303.6,106.3L302.1,103.1L300.5,100.0L298.7,97.0L296.8,94.1L294.8,91.2L292.7,88.4L290.5,85.7L288.2,83.1L285.7,80.6L283.2,78.2L280.6,75.9L277.8,73.7L275.0,71.7L272.1,69.8L269.0,68.0L266.0,66.4L262.8,65.0L259.5,63.7L256.2,62.6L252.9,61.7L249.5,61.0L246.0,60.5L242.5,60.2L239.0,60.2L235.5,60.3Z" fill="#c9b95a"/>
<path d="M235.3,42.8L240.2,42.0L245.0,41.6L249.6,41.6L254.2,41.9L258.7,42.5L263.1,43.5L267.4,44.7L271.7,46.3L275.8,48.0L279.9,50.0L283.9,52.2L287.8,54.6L291.6,57.2L295.3,59.9L298.9,62.9L302.4,65.9L305.8,69.1L309.1,72.4L312.3,75.9L315.3,79.4L318.1,83.0L320.8,86.8L323.3,90.6L325.7,94.5L327.8,98.5L329.8,102.6L331.6,106.7L333.1,110.9L334.4,115.2L335.4,119.6L336.2,124.1L336.8,128.6L337.1,133.3L337.1,138.0L336.9,142.8L311.0,140.1L311.0,136.6L310.8,133.1L310.4,129.6L309.9,126.1L309.2,122.7L308.4,119.3L307.4,116.0L306.3,112.7L305.0,109.5L303.6,106.3L302.1,103.1L300.5,100.0L298.7,97.0L296.8,94.1L294.8,91.2L292.7,88.4L290.5,85.7L288.2,83.1L285.7,80.6L283.2,78.2L280.6,75.9L277.8,73.7L275.0,71.7L272.1,69.8L269.0,68.0L266.0,66.4L262.8,65.0L259.5,63.7L256.2,62.6L252.9,61.7L249.5,61.0L246.0,60.5L242.5,60.2L239.0,60.2L235.5,60.3Z" fill="#c8b859"/>
<path d="M235.3,43.6L240.1,42.8L244.9,42.4L249.5,42.3L254.0,42.6L258.5,43.3L262.9,44.2L267.1,45.4L271.4,46.9L275.5,48.6L279.5,50.6L283.5,52.8L287.4,55.2L291.1,57.7L294.8,60.5L298.4,63.4L301.9,66.4L305.3,69.6L308.5,72.9L311.6,76.3L314.5,79.8L317.3,83.4L320.0,87.2L322.5,91.0L324.7,94.8L326.8,98.8L328.7,102.9L330.4,107.0L331.9,111.2L333.1,115.5L334.1,119.8L334.8,124.2L335.4,128.7L335.7,133.3L335.7,137.9L335.4,142.7L311.0,140.1L311.0,136.6L310.8,133.1L310.4,129.6L309.9,126.1L309.2,122.7L308.4,119.3L307.4,116.0L306.3,112.7L305.0,109.5L303.6,106.3L302.1,103.1L300.5,100.0L298.7,97.0L296.8,94.1L294.8,91.2L292.7,88.4L290.5,85.7L288.2,83.1L285.7,80.6L283.2,78.2L280.6,75.9L277.8,73.7L275.0,71.7L272.1,69.8L269.0,68.0L266.0,66.4L262.8,65.0L259.5,63.7L256.2,62.6L252.9,61.7L249.5,61.0L246.0,60.5L242.5,60.2L239.0,60.2L235.5,60.3Z" fill="#c7b759"/>
<path d="M235.3,44.5L240.1,43.6L244.8,43.2L249.3,43.1L253.9,43.4L258.3,44.0L262.6,44.9L266.9,46.1L271.0,47.6L275.2,49.3L279.2,51.2L283.1,53.4L286.9,55.7L290.7,58.3L294.3,61.0L297.9,63.9L301.3,66.9L304.7,70.0L307.8,73.3L310.9,76.7L313.8,80.2L316.5,83.9L319.1,87.5L321.6,91.3L323.8,95.2L325.8,99.1L327.6,103.2L329.3,107.3L330.7,111.4L331.8,115.7L332.7,120.0L333.4,124.3L334.0,128.7L334.2,133.3L334.2,137.9L334.0,142.5L311.0,140.1L311.0,136.6L310.8,133.1L310.4,129.6L309.9,126.1L309.2,122.7L308.4,119.3L307.4,116.0L306.3,112.7L305.0,109.5L303.6,106.3L302.1,103.1L300.5,100.0L298.7,97.0L296.8,94.1L294.8,91.2L292.7,88.4L290.5,85.7L288.2,83.1L285.7,80.6L283.2,78.2L280.6,75.9L277.8,73.7L275.0,71.7L272.1,69.8L269.0,68.0L266.0,66.4L262.8,65.0L259.5,63.7L256.2,62.6L252.9,61.7L249.5,61.0L246.0,60.5L242.5,60.2L239.0,60.2L235.5,60.3Z" fill="#c6b658"/>
<path d="M235.3,45.3L240.0,44.5L244.6,44.0L249.2,43.9L253.7,44.1L258.0,44.7L262.3,45.6L266.6,46.8L270.7,48.2L274.8,49.9L278.8,51.8L282.7,53.9L286.5,56.3L290.2,58.8L293.8,61.5L297.4,64.4L300.8,67.4L304.1,70.5L307.2,73.8L310.2,77.2L313.0,80.7L315.8,84.3L318.3,87.9L320.7,91.7L322.8,95.5L324.8,99.5L326.6,103.5L328.1,107.5L329.4,111.7L330.5,115.9L331.4,120.1L332.0,124.4L332.6,128.8L332.8,133.2L332.8,137.8L332.5,142.4L311.0,140.1L311.0,136.6L310.8,133.1L310.4,129.6L309.9,126.1L309.2,122.7L308.4,119.3L307.4,116.0L306.3,112.7L305.0,109.5L303.6,106.3L302.1,103.1L300.5,100.0L298.7,97.0L296.8,94.1L294.8,91.2L292.7,88.4L290.5,85.7L288.2,83.1L285.7,80.6L283.2,78.2L280.6,75.9L277.8,73.7L275.0,71.7L272.1,69.8L269.0,68.0L266.0,66.4L262.8,65.0L259.5,63.7L256.2,62.6L252.9,61.7L249.5,61.0L246.0,60.5L242.5,60.2L239.0,60.2L235.5,60.3Z" fill="#c6b658"/>
<path d="M235.3,46.1L240.0,45.3L244.5,44.8L249.0,44.7L253.5,44.9L257.8,45.5L262.1,46.3L266.3,47.5L270.4,48.9L274.5,50.5L278.5,52.4L282.3,54.5L286.1,56.9L289.8,59.4L293.3,62.1L296.8,64.9L300.2,67.9L303.5,71.0L306.6,74.2L309.5,77.6L312.3,81.1L315.0,84.7L317.5,88.3L319.8,92.1L321.9,95.9L323.8,99.8L325.5,103.8L327.0,107.8L328.2,111.9L329.2,116.1L330.0,120.3L330.6,124.5L331.1,128.8L331.4,133.2L331.4,137.7L331.1,142.2L311.0,140.1L311.0,136.6L310.8,133.1L310.4,129.6L309.9,126.1L309.2,122.7L308.4,119.3L307.4,116.0L306.3,112.7L305.0,109.5L303.6,106.3L302.1,103.1L300.5,100.0L298.7,97.0L296.8,94.1L294.8,91.2L292.7,88.4L290.5,85.7L288.2,83.1L285.7,80.6L283.2,78.2L280.6,75.9L277.8,73.7L275.0,71.7L272.1,69.8L269.0,68.0L266.0,66.4L262.8,65.0L259.5,63.7L256.2,62.6L252.9,61.7L249.5,61.0L246.0,60.5L242.5,60.2L239.0,60.2L235.5,60.3Z" fill="#c5b557"/>
<path d="M235.3,47.0L239.9,46.1L244.4,45.6L248.9,45.4L253.3,45.6L257.6,46.2L261.8,47.1L266.0,48.2L270.1,49.6L274.1,51.2L278.1,53.0L281.9,55.1L285.7,57.4L289.3,59.9L292.9,62.6L296.3,65.4L299.6,68.4L302.9,71.5L305.9,74.7L308.8,78.1L311.6,81.5L314.2,85.1L316.6,88.7L318.9,92.4L320.9,96.2L322.8,100.1L324.4,104.1L325.9,108.1L327.0,112.1L327.9,116.3L328.6,120.4L329.3,124.6L329.7,128.9L330.0,133.2L329.9,137.6L329.7,142.1L311.0,140.1L311.0,136.6L310.8,133.1L310.4,129.6L309.9,126.1L309.2,122.7L308.4,119.3L307.4,116.0L306.3,112.7L305.0,109.5L303.6,106.3L302.1,103.1L300.5,100.0L298.7,97.0L296.8,94.1L294.8,91.2L292.7,88.4L290.5,85.7L288.2,83.1L285.7,80.6L283.2,78.2L280.6,75.9L277.8,73.7L275.0,71.7L272.1,69.8L269.0,68.0L266.0,66.4L262.8,65.0L259.5,63.7L256.2,62.6L252.9,61.7L249.5,61.0L246.0,60.5L242.5,60.2L239.0,60.2L235.5,60.3Z" fill="#c4b456"/>
<path d="M235.3,47.8L239.9,46.9L244.3,46.4L248.8,46.2L253.1,46.4L257.4,46.9L261.6,47.8L265.7,48.9L269.8,50.2L273.8,51.8L277.7,53.6L281.6,55.7L285.3,58.0L288.9,60.5L292.4,63.1L295.8,65.9L299.1,68.9L302.3,71.9L305.3,75.1L308.1,78.5L310.8,82.0L313.4,85.5L315.8,89.1L318.0,92.8L320.0,96.6L321.7,100.5L323.3,104.4L324.7,108.3L325.8,112.4L326.7,116.5L327.3,120.6L327.9,124.7L328.3,128.9L328.5,133.2L328.5,137.5L328.2,141.9L311.0,140.1L311.0,136.6L310.8,133.1L310.4,129.6L309.9,126.1L309.2,122.7L308.4,119.3L307.4,116.0L306.3,112.7L305.0,109.5L303.6,106.3L302.1,103.1L300.5,100.0L298.7,97.0L296.8,94.1L294.8,91.2L292.7,88.4L290.5,85.7L288.2,83.1L285.7,80.6L283.2,78.2L280.6,75.9L277.8,73.7L275.0,71.7L272.1,69.8L269.0,68.0L266.0,66.4L262.8,65.0L259.5,63.7L256.2,62.6L252.9,61.7L249.5,61.0L246.0,60.5L242.5,60.2L239.0,60.2L235.5,60.3Z" fill="#c4b456"/>
<path d="M235.3,48.6L239.8,47.8L244.2,47.2L248.6,47.0L252.9,47.1L257.2,47.7L261.3,48.5L265.4,49.6L269.5,50.9L273.5,52.4L277.4,54.2L281.2,56.2L284.8,58.6L288.4,61.0L291.9,63.7L295.2,66.4L298.5,69.4L301.7,72.4L304.7,75.6L307.4,78.9L310.1,82.4L312.6,85.9L314.9,89.5L317.1,93.2L319.0,96.9L320.7,100.8L322.2,104.7L323.6,108.6L324.6,112.6L325.4,116.7L325.9,120.7L326.5,124.9L326.9,129.0L327.1,133.2L327.1,137.5L326.8,141.8L311.0,140.1L311.0,136.6L310.8,133.1L310.4,129.6L309.9,126.1L309.2,122.7L308.4,119.3L307.4,116.0L306.3,112.7L305.0,109.5L303.6,106.3L302.1,103.1L300.5,100.0L298.7,97.0L296.8,94.1L294.8,91.2L292.7,88.4L290.5,85.7L288.2,83.1L285.7,80.6L283.2,78.2L280.6,75.9L277.8,73.7L275.0,71.7L272.1,69.8L269.0,68.0L266.0,66.4L262.8,65.0L259.5,63.7L256.2,62.6L252.9,61.7L249.5,61.0L246.0,60.5L242.5,60.2L239.0,60.2L235.5,60.3Z" fill="#c3b355"/>
<path d="M235.4,49.5L239.8,48.6L244.1,48.0L248.5,47.8L252.7,47.9L256.9,48.4L261.1,49.2L265.1,50.2L269.2,51.5L273.1,53.1L277.0,54.8L280.8,56.8L284.4,59.1L287.9,61.6L291.4,64.2L294.7,67.0L298.0,69.9L301.1,72.9L304.0,76.1L306.8,79.4L309.4,82.8L311.8,86.3L314.1,89.9L316.2,93.5L318.0,97.3L319.7,101.1L321.2,105.0L322.4,108.9L323.4,112.9L324.1,116.9L324.6,120.9L325.1,125.0L325.5,129.0L325.7,133.2L325.6,137.4L325.3,141.6L311.0,140.1L311.0,136.6L310.8,133.1L310.4,129.6L309.9,126.1L309.2,122.7L308.4,119.3L307.4,116.0L306.3,112.7L305.0,109.5L303.6,106.3L302.1,103.1L300.5,100.0L298.7,97.0L296.8,94.1L294.8,91.2L292.7,88.4L290.5,85.7L288.2,83.1L285.7,80.6L283.2,78.2L280.6,75.9L277.8,73.7L275.0,71.7L272.1,69.8L269.0,68.0L266.0,66.4L262.8,65.0L259.5,63.7L256.2,62.6L252.9,61.7L249.5,61.0L246.0,60.5L242.5,60.2L239.0,60.2L235.5,60.3Z" fill="#c2b255"/>
<path d="M235.4,50.3L239.7,49.4L244.0,48.8L248.3,48.5L252.5,48.6L256.7,49.1L260.8,49.9L264.9,50.9L268.8,52.2L272.8,53.7L276.6,55.4L280.4,57.4L284.0,59.7L287.5,62.1L290.9,64.7L294.2,67.5L297.4,70.3L300.5,73.3L303.4,76.5L306.1,79.8L308.6,83.2L311.0,86.7L313.3,90.3L315.3,93.9L317.1,97.6L318.7,101.4L320.1,105.3L321.3,109.2L322.2,113.1L322.8,117.1L323.2,121.1L323.7,125.1L324.1,129.1L324.2,133.2L324.2,137.3L323.9,141.5L311.0,140.1L311.0,136.6L310.8,133.1L310.4,129.6L309.9,126.1L309.2,122.7L308.4,119.3L307.4,116.0L306.3,112.7L305.0,109.5L303.6,106.3L302.1,103.1L300.5,100.0L298.7,97.0L296.8,94.1L294.8,91.2L292.7,88.4L290.5,85.7L288.2,83.1L285.7,80.6L283.2,78.2L280.6,75.9L277.8,73.7L275.0,71.7L272.1,69.8L269.0,68.0L266.0,66.4L262.8,65.0L259.5,63.7L256.2,62.6L252.9,61.7L249.5,61.0L246.0,60.5L242.5,60.2L239.0,60.2L235.5,60.3Z" fill="#c1b154"/>
<path d="M235.4,51.2L239.6,50.2L243.9,49.6L248.2,49.3L252.4,49.4L256.5,49.9L260.6,50.6L264.6,51.6L268.5,52.9L272.4,54.3L276.3,56.0L280.0,58.0L283.6,60.2L287.0,62.7L290.4,65.3L293.7,68.0L296.8,70.8L299.9,73.8L302.7,77.0L305.4,80.3L307.9,83.7L310.2,87.1L312.4,90.7L314.4,94.3L316.1,98.0L317.7,101.8L319.0,105.6L320.1,109.4L321.0,113.3L321.5,117.3L321.9,121.2L322.3,125.2L322.6,129.1L322.8,133.2L322.7,137.2L322.4,141.3L311.0,140.1L311.0,136.6L310.8,133.1L310.4,129.6L309.9,126.1L309.2,122.7L308.4,119.3L307.4,116.0L306.3,112.7L305.0,109.5L303.6,106.3L302.1,103.1L300.5,100.0L298.7,97.0L296.8,94.1L294.8,91.2L292.7,88.4L290.5,85.7L288.2,83.1L285.7,80.6L283.2,78.2L280.6,75.9L277.8,73.7L275.0,71.7L272.1,69.8L269.0,68.0L266.0,66.4L262.8,65.0L259.5,63.7L256.2,62.6L252.9,61.7L249.5,61.0L246.0,60.5L242.5,60.2L239.0,60.2L235.5,60.3Z" fill="#bfaf53"/>
<path d="M235.4,51.9L239.6,51.0L243.8,50.4L248.0,50.1L252.2,50.1L256.2,50.6L260.3,51.4L264.3,52.4L268.2,53.6L272.0,55.1L275.9,56.7L279.5,58.7L283.1,60.9L286.5,63.3L289.8,65.9L293.0,68.6L296.2,71.4L299.2,74.4L302.0,77.5L304.6,80.8L307.1,84.1L309.4,87.6L311.5,91.1L313.5,94.7L315.2,98.3L316.7,102.1L318.0,105.9L319.1,109.7L319.9,113.5L320.5,117.4L320.8,121.4L321.2,125.3L321.6,129.2L321.7,133.2L321.7,137.2L321.4,141.2L311.0,140.1L311.0,136.6L310.8,133.1L310.4,129.6L309.9,126.1L309.2,122.7L308.4,119.3L307.4,116.0L306.3,112.7L305.0,109.5L303.6,106.3L302.1,103.1L300.5,100.0L298.7,97.0L296.8,94.1L294.8,91.2L292.7,88.4L290.5,85.7L288.2,83.1L285.7,80.6L283.2,78.2L280.6,75.9L277.8,73.7L275.0,71.7L272.1,69.8L269.0,68.0L266.0,66.4L262.8,65.0L259.5,63.7L256.2,62.6L252.9,61.7L249.5,61.0L246.0,60.5L242.5,60.2L239.0,60.2L235.5,60.3Z" fill="#baab50"/>
<path d="M235.4,52.6L239.6,51.7L243.7,51.1L247.9,50.8L252.0,50.9L256.0,51.4L260.0,52.1L263.9,53.1L267.8,54.3L271.7,55.8L275.4,57.4L279.1,59.4L282.5,61.6L285.9,64.0L289.2,66.5L292.4,69.2L295.5,72.0L298.5,74.9L301.3,78.0L303.8,81.3L306.3,84.6L308.5,88.0L310.7,91.5L312.6,95.0L314.2,98.7L315.7,102.4L317.0,106.1L318.1,109.9L318.9,113.7L319.4,117.6L319.8,121.5L320.2,125.3L320.5,129.2L320.7,133.1L320.6,137.1L320.4,141.1L311.0,140.1L311.0,136.6L310.8,133.1L310.4,129.6L309.9,126.1L309.2,122.7L308.4,119.3L307.4,116.0L306.3,112.7L305.0,109.5L303.6,106.3L302.1,103.1L300.5,100.0L298.7,97.0L296.8,94.1L294.8,91.2L292.7,88.4L290.5,85.7L288.2,83.1L285.7,80.6L283.2,78.2L280.6,75.9L277.8,73.7L275.0,71.7L272.1,69.8L269.0,68.0L266.0,66.4L262.8,65.0L259.5,63.7L256.2,62.6L252.9,61.7L249.5,61.0L246.0,60.5L242.5,60.2L239.0,60.2L235.5,60.3Z" fill="#b6a74e"/>
<path d="M235.4,53.3L239.5,52.4L243.6,51.9L247.7,51.6L251.8,51.7L255.8,52.2L259.7,52.9L263.6,53.9L267.5,55.1L271.3,56.5L275.0,58.1L278.6,60.1L282.0,62.3L285.4,64.6L288.6,67.1L291.8,69.8L294.8,72.6L297.8,75.5L300.5,78.5L303.1,81.8L305.4,85.1L307.7,88.4L309.8,91.9L311.7,95.4L313.3,99.0L314.8,102.7L316.0,106.4L317.1,110.1L317.9,113.9L318.4,117.8L318.7,121.6L319.1,125.4L319.5,129.3L319.6,133.1L319.6,137.1L319.3,141.0L311.0,140.1L311.0,136.6L310.8,133.1L310.4,129.6L309.9,126.1L309.2,122.7L308.4,119.3L307.4,116.0L306.3,112.7L305.0,109.5L303.6,106.3L302.1,103.1L300.5,100.0L298.7,97.0L296.8,94.1L294.8,91.2L292.7,88.4L290.5,85.7L288.2,83.1L285.7,80.6L283.2,78.2L280.6,75.9L277.8,73.7L275.0,71.7L272.1,69.8L269.0,68.0L266.0,66.4L262.8,65.0L259.5,63.7L256.2,62.6L252.9,61.7L249.5,61.0L246.0,60.5L242.5,60.2L239.0,60.2L235.5,60.3Z" fill="#b2a44b"/>
<path d="M235.4,54.0L239.5,53.2L243.5,52.6L247.6,52.3L251.6,52.4L255.6,52.9L259.5,53.7L263.3,54.6L267.1,55.8L270.9,57.2L274.6,58.9L278.1,60.8L281.5,62.9L284.8,65.3L288.1,67.8L291.2,70.4L294.2,73.2L297.1,76.0L299.8,79.1L302.3,82.3L304.6,85.5L306.8,88.9L308.9,92.3L310.8,95.8L312.4,99.4L313.8,103.0L315.0,106.7L316.1,110.4L316.9,114.1L317.4,117.9L317.7,121.7L318.0,125.5L318.4,129.3L318.6,133.1L318.5,137.0L318.3,140.9L311.0,140.1L311.0,136.6L310.8,133.1L310.4,129.6L309.9,126.1L309.2,122.7L308.4,119.3L307.4,116.0L306.3,112.7L305.0,109.5L303.6,106.3L302.1,103.1L300.5,100.0L298.7,97.0L296.8,94.1L294.8,91.2L292.7,88.4L290.5,85.7L288.2,83.1L285.7,80.6L283.2,78.2L280.6,75.9L277.8,73.7L275.0,71.7L272.1,69.8L269.0,68.0L266.0,66.4L262.8,65.0L259.5,63.7L256.2,62.6L252.9,61.7L249.5,61.0L246.0,60.5L242.5,60.2L239.0,60.2L235.5,60.3Z" fill="#aea049"/>
<path d="M235.4,54.7L239.4,53.9L243.4,53.4L247.4,53.1L251.4,53.2L255.3,53.7L259.2,54.4L263.0,55.4L266.8,56.6L270.5,58.0L274.1,59.6L277.7,61.5L281.0,63.6L284.3,65.9L287.5,68.4L290.5,71.0L293.5,73.7L296.4,76.6L299.0,79.6L301.5,82.8L303.8,86.0L306.0,89.3L308.0,92.7L309.9,96.2L311.4,99.7L312.8,103.3L314.0,107.0L315.1,110.6L315.8,114.3L316.3,118.1L316.6,121.8L317.0,125.6L317.3,129.3L317.5,133.1L317.5,136.9L317.2,140.8L311.0,140.1L311.0,136.6L310.8,133.1L310.4,129.6L309.9,126.1L309.2,122.7L308.4,119.3L307.4,116.0L306.3,112.7L305.0,109.5L303.6,106.3L302.1,103.1L300.5,100.0L298.7,97.0L296.8,94.1L294.8,91.2L292.7,88.4L290.5,85.7L288.2,83.1L285.7,80.6L283.2,78.2L280.6,75.9L277.8,73.7L275.0,71.7L272.1,69.8L269.0,68.0L266.0,66.4L262.8,65.0L259.5,63.7L256.2,62.6L252.9,61.7L249.5,61.0L246.0,60.5L242.5,60.2L239.0,60.2L235.5,60.3Z" fill="#a99c46"/>
<path d="M235.4,55.4L239.4,54.6L243.3,54.1L247.3,53.8L251.2,54.0L255.1,54.5L258.9,55.2L262.7,56.1L266.4,57.3L270.1,58.7L273.7,60.3L277.2,62.2L280.5,64.3L283.7,66.6L286.9,69.0L289.9,71.6L292.9,74.3L295.7,77.1L298.3,80.1L300.7,83.3L303.0,86.5L305.2,89.8L307.1,93.1L308.9,96.5L310.5,100.1L311.9,103.6L313.1,107.2L314.1,110.9L314.8,114.6L315.3,118.3L315.6,122.0L315.9,125.7L316.3,129.4L316.4,133.1L316.4,136.9L316.2,140.7L311.0,140.1L311.0,136.6L310.8,133.1L310.4,129.6L309.9,126.1L309.2,122.7L308.4,119.3L307.4,116.0L306.3,112.7L305.0,109.5L303.6,106.3L302.1,103.1L300.5,100.0L298.7,97.0L296.8,94.1L294.8,91.2L292.7,88.4L290.5,85.7L288.2,83.1L285.7,80.6L283.2,78.2L280.6,75.9L277.8,73.7L275.0,71.7L272.1,69.8L269.0,68.0L266.0,66.4L262.8,65.0L259.5,63.7L256.2,62.6L252.9,61.7L249.5,61.0L246.0,60.5L242.5,60.2L239.0,60.2L235.5,60.3Z" fill="#9e9140"/>
<path d="M235.4,56.2L239.3,55.4L243.2,54.9L247.1,54.7L251.0,54.8L254.8,55.3L258.6,56.0L262.3,57.0L266.0,58.2L269.6,59.5L273.2,61.1L276.7,62.9L279.9,65.1L283.1,67.3L286.2,69.8L289.2,72.3L292.1,75.0L294.9,77.8L297.5,80.7L299.9,83.8L302.1,87.0L304.2,90.2L306.2,93.6L307.9,97.0L309.4,100.5L310.8,104.0L311.9,107.5L312.9,111.1L313.6,114.8L314.1,118.4L314.4,122.1L314.7,125.8L315.1,129.4L315.2,133.1L315.2,136.8L315.0,140.5L311.0,140.1L311.0,136.6L310.8,133.1L310.4,129.6L309.9,126.1L309.2,122.7L308.4,119.3L307.4,116.0L306.3,112.7L305.0,109.5L303.6,106.3L302.1,103.1L300.5,100.0L298.7,97.0L296.8,94.1L294.8,91.2L292.7,88.4L290.5,85.7L288.2,83.1L285.7,80.6L283.2,78.2L280.6,75.9L277.8,73.7L275.0,71.7L272.1,69.8L269.0,68.0L266.0,66.4L262.8,65.0L259.5,63.7L256.2,62.6L252.9,61.7L249.5,61.0L246.0,60.5L242.5,60.2L239.0,60.2L235.5,60.3Z" fill="#8a7f38"/>
<path d="M235.4,57.0L239.3,56.3L243.1,55.8L247.0,55.6L250.8,55.7L254.6,56.2L258.3,56.9L262.0,57.8L265.6,59.0L269.2,60.4L272.7,61.9L276.1,63.7L279.4,65.8L282.5,68.1L285.6,70.5L288.5,73.0L291.4,75.6L294.1,78.4L296.6,81.3L299.0,84.4L301.2,87.5L303.2,90.7L305.2,94.0L306.9,97.4L308.4,100.8L309.7,104.3L310.8,107.9L311.8,111.4L312.5,115.0L312.9,118.6L313.2,122.3L313.5,125.9L313.8,129.5L314.0,133.1L314.0,136.7L313.8,140.4L311.0,140.1L311.0,136.6L310.8,133.1L310.4,129.6L309.9,126.1L309.2,122.7L308.4,119.3L307.4,116.0L306.3,112.7L305.0,109.5L303.6,106.3L302.1,103.1L300.5,100.0L298.7,97.0L296.8,94.1L294.8,91.2L292.7,88.4L290.5,85.7L288.2,83.1L285.7,80.6L283.2,78.2L280.6,75.9L277.8,73.7L275.0,71.7L272.1,69.8L269.0,68.0L266.0,66.4L262.8,65.0L259.5,63.7L256.2,62.6L252.9,61.7L249.5,61.0L246.0,60.5L242.5,60.2L239.0,60.2L235.5,60.3Z" fill="#786d2e"/>
<path d="M235.4,57.8L239.2,57.1L243.0,56.6L246.8,56.4L250.6,56.5L254.3,57.0L258.0,57.8L261.6,58.7L265.2,59.8L268.8,61.2L272.2,62.7L275.6,64.5L278.8,66.6L281.9,68.8L284.9,71.2L287.8,73.7L290.6,76.3L293.3,79.0L295.8,81.9L298.1,84.9L300.3,88.1L302.3,91.2L304.2,94.5L305.9,97.8L307.3,101.2L308.6,104.7L309.7,108.2L310.6,111.7L311.3,115.2L311.7,118.8L312.0,122.4L312.3,125.9L312.6,129.5L312.8,133.1L312.8,136.7L312.6,140.3L311.0,140.1L311.0,136.6L310.8,133.1L310.4,129.6L309.9,126.1L309.2,122.7L308.4,119.3L307.4,116.0L306.3,112.7L305.0,109.5L303.6,106.3L302.1,103.1L300.5,100.0L298.7,97.0L296.8,94.1L294.8,91.2L292.7,88.4L290.5,85.7L288.2,83.1L285.7,80.6L283.2,78.2L280.6,75.9L277.8,73.7L275.0,71.7L272.1,69.8L269.0,68.0L266.0,66.4L262.8,65.0L259.5,63.7L256.2,62.6L252.9,61.7L249.5,61.0L246.0,60.5L242.5,60.2L239.0,60.2L235.5,60.3Z" fill="#5e5624"/>
<path d="M235.5,58.3L239.2,57.6L242.9,57.2L246.7,57.0L250.4,57.1L254.1,57.6L257.8,58.4L261.4,59.3L264.9,60.4L268.5,61.8L271.9,63.3L275.2,65.1L278.4,67.1L281.5,69.3L284.4,71.7L287.3,74.1L290.1,76.7L292.8,79.5L295.2,82.3L297.5,85.3L299.6,88.4L301.6,91.6L303.5,94.8L305.1,98.1L306.6,101.5L307.8,104.9L308.9,108.4L309.8,111.9L310.5,115.4L310.9,118.9L311.2,122.5L311.5,126.0L311.8,129.5L312.0,133.1L312.0,136.6L311.8,140.2L311.0,140.1L311.0,136.6L310.8,133.1L310.4,129.6L309.9,126.1L309.2,122.7L308.4,119.3L307.4,116.0L306.3,112.7L305.0,109.5L303.6,106.3L302.1,103.1L300.5,100.0L298.7,97.0L296.8,94.1L294.8,91.2L292.7,88.4L290.5,85.7L288.2,83.1L285.7,80.6L283.2,78.2L280.6,75.9L277.8,73.7L275.0,71.7L272.1,69.8L269.0,68.0L266.0,66.4L262.8,65.0L259.5,63.7L256.2,62.6L252.9,61.7L249.5,61.0L246.0,60.5L242.5,60.2L239.0,60.2L235.5,60.3Z" fill="#3e3816"/>
<path d="M235.5,58.9L239.1,58.2L242.8,57.8L246.6,57.6L250.3,57.7L253.9,58.2L257.6,59.0L261.1,59.9L264.7,61.0L268.2,62.3L271.6,63.8L274.9,65.6L278.0,67.6L281.0,69.8L284.0,72.2L286.8,74.6L289.6,77.2L292.2,79.9L294.7,82.7L296.9,85.7L299.0,88.8L301.0,91.9L302.8,95.1L304.4,98.4L305.8,101.8L307.1,105.2L308.1,108.6L309.1,112.1L309.7,115.6L310.1,119.1L310.3,122.6L310.6,126.1L311.0,129.6L311.2,133.1L311.2,136.6L311.0,140.1L311.0,140.1L311.0,136.6L310.8,133.1L310.4,129.6L309.9,126.1L309.2,122.7L308.4,119.3L307.4,116.0L306.3,112.7L305.0,109.5L303.6,106.3L302.1,103.1L300.5,100.0L298.7,97.0L296.8,94.1L294.8,91.2L292.7,88.4L290.5,85.7L288.2,83.1L285.7,80.6L283.2,78.2L280.6,75.9L277.8,73.7L275.0,71.7L272.1,69.8L269.0,68.0L266.0,66.4L262.8,65.0L259.5,63.7L256.2,62.6L252.9,61.7L249.5,61.0L246.0,60.5L242.5,60.2L239.0,60.2L235.5,60.3Z" fill="#171508"/>
<path d="M235.5,59.4L239.1,58.8L242.8,58.4L246.5,58.2L250.1,58.3L253.8,58.8L257.3,59.6L260.9,60.5L264.4,61.6L267.8,62.9L271.2,64.4L274.5,66.1L277.6,68.2L280.6,70.3L283.5,72.7L286.3,75.1L289.1,77.7L291.7,80.3L294.1,83.1L296.3,86.1L298.4,89.2L300.3,92.3L302.1,95.4L303.7,98.7L305.1,102.0L306.3,105.4L307.4,108.8L308.3,112.2L308.9,115.7L309.3,119.2L309.5,122.7L309.9,126.1L310.4,129.6L310.8,133.1L311.0,136.6L311.0,140.1L311.0,140.1L311.0,136.6L310.8,133.1L310.4,129.6L309.9,126.1L309.2,122.7L308.4,119.3L307.4,116.0L306.3,112.7L305.0,109.5L303.6,106.3L302.1,103.1L300.5,100.0L298.7,97.0L296.8,94.1L294.8,91.2L292.7,88.4L290.5,85.7L288.2,83.1L285.7,80.6L283.2,78.2L280.6,75.9L277.8,73.7L275.0,71.7L272.1,69.8L269.0,68.0L266.0,66.4L262.8,65.0L259.5,63.7L256.2,62.6L252.9,61.7L249.5,61.0L246.0,60.5L242.5,60.2L239.0,60.2L235.5,60.3Z" fill="#000000"/>
<path d="M235.5,59.8L239.1,59.3L242.7,59.0L246.3,58.9L249.9,59.2L253.5,59.7L257.0,60.5L260.5,61.4L263.9,62.6L267.3,63.9L270.6,65.4L273.8,67.2L276.8,69.2L279.8,71.3L282.7,73.6L285.4,76.0L288.1,78.5L290.7,81.1L293.0,83.9L295.2,86.8L297.3,89.8L299.3,92.8L301.1,95.9L302.7,99.1L304.2,102.4L305.5,105.7L306.6,109.0L307.6,112.4L308.3,115.8L308.8,119.3L309.2,122.7L309.9,126.1L310.4,129.6L310.8,133.1L311.0,136.6L311.0,140.1L311.0,140.1L311.0,136.6L310.8,133.1L310.4,129.6L309.9,126.1L309.2,122.7L308.4,119.3L307.4,116.0L306.3,112.7L305.0,109.5L303.6,106.3L302.1,103.1L300.5,100.0L298.7,97.0L296.8,94.1L294.8,91.2L292.7,88.4L290.5,85.7L288.2,83.1L285.7,80.6L283.2,78.2L280.6,75.9L277.8,73.7L275.0,71.7L272.1,69.8L269.0,68.0L266.0,66.4L262.8,65.0L259.5,63.7L256.2,62.6L252.9,61.7L249.5,61.0L246.0,60.5L242.5,60.2L239.0,60.2L235.5,60.3Z" fill="#000000"/>
<path d="M235.5,60.2L239.0,59.8L242.6,59.6L246.2,59.7L249.7,60.0L253.2,60.6L256.7,61.4L260.1,62.4L263.5,63.6L266.7,64.9L270.0,66.5L273.1,68.2L276.1,70.2L279.0,72.3L281.8,74.5L284.5,76.9L287.1,79.3L289.6,81.9L292.0,84.6L294.2,87.4L296.3,90.4L298.2,93.3L300.1,96.4L301.8,99.5L303.2,102.7L304.6,106.0L305.8,109.2L306.9,112.6L307.7,115.9L308.4,119.3L309.2,122.7L309.9,126.1L310.4,129.6L310.8,133.1L311.0,136.6L311.0,140.1L311.0,140.1L311.0,136.6L310.8,133.1L310.4,129.6L309.9,126.1L309.2,122.7L308.4,119.3L307.4,116.0L306.3,112.7L305.0,109.5L303.6,106.3L302.1,103.1L300.5,100.0L298.7,97.0L296.8,94.1L294.8,91.2L292.7,88.4L290.5,85.7L288.2,83.1L285.7,80.6L283.2,78.2L280.6,75.9L277.8,73.7L275.0,71.7L272.1,69.8L269.0,68.0L266.0,66.4L262.8,65.0L259.5,63.7L256.2,62.6L252.9,61.7L249.5,61.0L246.0,60.5L242.5,60.2L239.0,60.2L235.5,60.3Z" fill="#000000"/>
<path d="M235.5,60.3L239.0,60.2L242.5,60.2L246.0,60.4L249.5,60.8L253.0,61.5L256.4,62.3L259.7,63.3L263.0,64.6L266.2,66.0L269.3,67.5L272.4,69.3L275.3,71.2L278.2,73.2L281.0,75.4L283.6,77.7L286.2,80.2L288.6,82.7L291.0,85.4L293.2,88.1L295.2,91.0L297.2,93.9L299.1,96.9L300.8,99.9L302.3,103.1L303.7,106.2L305.0,109.5L306.3,112.7L307.4,116.0L308.4,119.3L309.2,122.7L309.9,126.1L310.4,129.6L310.8,133.1L311.0,136.6L311.0,140.1L311.0,140.1L311.0,136.6L310.8,133.1L310.4,129.6L309.9,126.1L309.2,122.7L308.4,119.3L307.4,116.0L306.3,112.7L305.0,109.5L303.6,106.3L302.1,103.1L300.5,100.0L298.7,97.0L296.8,94.1L294.8,91.2L292.7,88.4L290.5,85.7L288.2,83.1L285.7,80.6L283.2,78.2L280.6,75.9L277.8,73.7L275.0,71.7L272.1,69.8L269.0,68.0L266.0,66.4L262.8,65.0L259.5,63.7L256.2,62.6L252.9,61.7L249.5,61.0L246.0,60.5L242.5,60.2L239.0,60.2L235.5,60.3Z" fill="#000000"/>
<ellipse cx="235.9" cy="44.1" rx="6.9" ry="16.2" fill="#ab9d49"/>
<ellipse cx="235.9" cy="38.8" rx="6.9" ry="10.9" fill="#4f908c"/>
<line x1="235.3" y1="49.8" x2="235.3" y2="59.3" stroke="#0a0a0a" stroke-width="1.4"/>
<path d="M437.9,318.7L438.0,319.0L438.3,319.3L438.7,319.6L439.2,320.0L439.9,320.3L440.7,320.6L441.6,320.8L442.6,321.1L443.7,321.3L444.9,321.5L446.1,321.6L447.3,321.8L448.6,321.8L449.8,321.9L450.9,321.8L452.0,321.8L453.0,321.7L454.0,321.5L454.8,321.4L455.5,321.2L456.0,320.9L456.4,320.7L456.6,320.4L456.7,320.1Z" fill="#c1b154"/><path d="M453.1,320.9L454.0,321.5L454.8,321.4L455.5,321.2L456.0,320.9L456.4,320.7L456.6,320.4L456.7,320.1Z" fill="#8bdfd1"/>
<path d="M374.6,217.8L378.9,217.7L383.2,217.8L387.5,218.0L391.8,218.6L396.0,219.4L400.2,220.4L404.3,221.6L408.3,223.2L412.1,224.9L415.9,226.9L419.5,229.2L423.0,231.6L426.3,234.3L429.5,237.2L432.5,240.2L435.3,243.5L438.0,246.8L440.4,250.4L442.8,254.0L444.9,257.8L446.8,261.6L448.6,265.5L450.2,269.5L451.7,273.6L452.9,277.7L454.0,281.8L455.0,285.9L455.7,290.1L456.3,294.3L456.8,298.5L457.1,302.7L457.2,307.0L457.2,311.3L457.0,315.6L456.7,320.1L453.1,320.9L453.7,316.6L454.0,312.5L454.1,308.5L454.0,304.6L453.7,300.6L453.2,296.8L452.6,292.9L451.8,289.1L450.8,285.3L449.7,281.5L448.4,277.7L446.9,274.0L445.4,270.3L443.6,266.7L441.7,263.1L439.6,259.7L437.4,256.3L435.0,253.1L432.5,250.0L429.7,247.0L426.9,244.3L423.8,241.7L420.6,239.3L417.3,237.2L413.8,235.3L410.2,233.6L406.4,232.2L402.6,231.1L398.6,230.2L394.6,229.7L390.6,229.3L386.5,229.2L382.5,229.4L378.5,229.8L374.6,230.3Z" fill="#7cd2c5"/>
<path d="M374.6,220.3L378.8,220.1L383.0,220.1L387.3,220.3L391.5,220.7L395.7,221.4L399.9,222.3L403.9,223.5L407.9,225.0L411.7,226.7L415.5,228.6L419.1,230.8L422.5,233.2L425.8,235.8L428.9,238.6L431.9,241.6L434.7,244.8L437.4,248.1L439.8,251.6L442.1,255.1L444.3,258.8L446.2,262.6L448.0,266.5L449.6,270.4L451.0,274.4L452.3,278.4L453.4,282.5L454.3,286.6L455.1,290.7L455.7,294.8L456.2,298.9L456.5,303.1L456.6,307.3L456.6,311.5L456.4,315.8L456.0,320.2L453.1,320.9L453.7,316.6L454.0,312.5L454.1,308.5L454.0,304.6L453.7,300.6L453.2,296.8L452.6,292.9L451.8,289.1L450.8,285.3L449.7,281.5L448.4,277.7L446.9,274.0L445.4,270.3L443.6,266.7L441.7,263.1L439.6,259.7L437.4,256.3L435.0,253.1L432.5,250.0L429.7,247.0L426.9,244.3L423.8,241.7L420.6,239.3L417.3,237.2L413.8,235.3L410.2,233.6L406.4,232.2L402.6,231.1L398.6,230.2L394.6,229.7L390.6,229.3L386.5,229.2L382.5,229.4L378.5,229.8L374.6,230.3Z" fill="#8cdfd2"/>
<path d="M374.6,222.8L378.7,222.5L382.9,222.4L387.1,222.5L391.3,222.9L395.5,223.5L399.6,224.3L403.6,225.4L407.5,226.8L411.3,228.4L415.0,230.3L418.6,232.4L422.0,234.7L425.3,237.3L428.4,240.0L431.4,242.9L434.2,246.1L436.8,249.3L439.2,252.7L441.5,256.3L443.6,259.9L445.5,263.6L447.3,267.4L448.9,271.3L450.4,275.2L451.6,279.2L452.7,283.2L453.7,287.2L454.5,291.2L455.1,295.3L455.6,299.4L455.8,303.5L456.0,307.6L455.9,311.8L455.7,316.0L455.3,320.4L453.1,320.9L453.7,316.6L454.0,312.5L454.1,308.5L454.0,304.6L453.7,300.6L453.2,296.8L452.6,292.9L451.8,289.1L450.8,285.3L449.7,281.5L448.4,277.7L446.9,274.0L445.4,270.3L443.6,266.7L441.7,263.1L439.6,259.7L437.4,256.3L435.0,253.1L432.5,250.0L429.7,247.0L426.9,244.3L423.8,241.7L420.6,239.3L417.3,237.2L413.8,235.3L410.2,233.6L406.4,232.2L402.6,231.1L398.6,230.2L394.6,229.7L390.6,229.3L386.5,229.2L382.5,229.4L378.5,229.8L374.6,230.3Z" fill="#8ee0d2"/>
<path d="M374.6,225.3L378.7,224.9L382.8,224.7L386.9,224.8L391.1,225.0L395.2,225.5L399.3,226.3L403.3,227.3L407.2,228.6L411.0,230.2L414.6,231.9L418.2,234.0L421.6,236.2L424.8,238.7L427.9,241.4L430.8,244.3L433.6,247.4L436.2,250.6L438.6,253.9L440.9,257.4L443.0,261.0L444.9,264.7L446.7,268.4L448.3,272.2L449.7,276.1L451.0,280.0L452.1,283.9L453.1,287.8L453.8,291.8L454.5,295.8L454.9,299.8L455.2,303.8L455.4,307.9L455.3,312.0L455.0,316.2L454.5,320.5L453.1,320.9L453.7,316.6L454.0,312.5L454.1,308.5L454.0,304.6L453.7,300.6L453.2,296.8L452.6,292.9L451.8,289.1L450.8,285.3L449.7,281.5L448.4,277.7L446.9,274.0L445.4,270.3L443.6,266.7L441.7,263.1L439.6,259.7L437.4,256.3L435.0,253.1L432.5,250.0L429.7,247.0L426.9,244.3L423.8,241.7L420.6,239.3L417.3,237.2L413.8,235.3L410.2,233.6L406.4,232.2L402.6,231.1L398.6,230.2L394.6,229.7L390.6,229.3L386.5,229.2L382.5,229.4L378.5,229.8L374.6,230.3Z" fill="#8fe1d4"/>
<path d="M374.6,227.8L378.6,227.3L382.6,227.1L386.7,227.0L390.8,227.2L394.9,227.6L399.0,228.3L402.9,229.2L406.8,230.4L410.6,231.9L414.2,233.6L417.7,235.6L421.1,237.8L424.3,240.2L427.4,242.8L430.3,245.7L433.0,248.7L435.6,251.8L438.0,255.1L440.2,258.5L442.3,262.1L444.2,265.7L446.0,269.4L447.6,273.1L449.0,276.9L450.3,280.7L451.5,284.6L452.4,288.5L453.2,292.4L453.9,296.3L454.3,300.2L454.6,304.2L454.7,308.2L454.6,312.3L454.3,316.4L453.8,320.7L453.1,320.9L453.7,316.6L454.0,312.5L454.1,308.5L454.0,304.6L453.7,300.6L453.2,296.8L452.6,292.9L451.8,289.1L450.8,285.3L449.7,281.5L448.4,277.7L446.9,274.0L445.4,270.3L443.6,266.7L441.7,263.1L439.6,259.7L437.4,256.3L435.0,253.1L432.5,250.0L429.7,247.0L426.9,244.3L423.8,241.7L420.6,239.3L417.3,237.2L413.8,235.3L410.2,233.6L406.4,232.2L402.6,231.1L398.6,230.2L394.6,229.7L390.6,229.3L386.5,229.2L382.5,229.4L378.5,229.8L374.6,230.3Z" fill="#91e2d4"/>
<path d="M374.6,230.3L378.5,229.8L382.5,229.4L386.5,229.2L390.6,229.3L394.6,229.7L398.6,230.2L402.6,231.1L406.4,232.2L410.2,233.6L413.8,235.3L417.3,237.2L420.6,239.3L423.8,241.7L426.9,244.3L429.7,247.0L432.5,250.0L435.0,253.1L437.4,256.3L439.6,259.7L441.7,263.1L443.6,266.7L445.4,270.3L446.9,274.0L448.4,277.7L449.7,281.5L450.8,285.3L451.8,289.1L452.6,292.9L453.2,296.8L453.7,300.6L454.0,304.6L454.1,308.5L454.0,312.5L453.7,316.6L453.1,320.9L437.9,318.7L438.4,314.9L438.6,311.3L438.6,307.9L438.4,304.5L438.1,301.3L437.7,298.0L437.1,294.8L436.4,291.6L435.6,288.4L434.7,285.2L433.7,282.0L432.6,278.8L431.4,275.5L430.0,272.3L428.6,269.2L427.1,266.0L425.4,262.9L423.7,259.9L421.8,257.0L419.8,254.2L417.6,251.6L415.4,249.1L412.9,246.7L410.4,244.6L407.7,242.7L404.9,241.1L402.0,239.8L398.9,238.7L395.8,238.0L392.5,237.6L389.1,237.5L385.7,237.9L382.2,238.6L378.6,239.7L375.1,241.1Z" fill="#c2b456"/>
<path d="M374.7,230.9L378.5,230.3L382.5,229.8L386.5,229.6L390.5,229.7L394.5,230.0L398.5,230.6L402.4,231.4L406.2,232.6L409.9,234.0L413.5,235.6L417.0,237.5L420.3,239.6L423.5,242.0L426.5,244.5L429.3,247.3L432.0,250.2L434.5,253.3L436.9,256.6L439.1,259.9L441.1,263.4L443.0,266.9L444.7,270.5L446.3,274.2L447.7,277.9L448.9,281.7L450.1,285.4L451.0,289.2L451.8,293.0L452.4,296.8L452.9,300.7L453.2,304.6L453.3,308.5L453.2,312.5L452.8,316.5L452.3,320.7L437.9,318.7L438.4,314.9L438.6,311.3L438.6,307.9L438.4,304.5L438.1,301.3L437.7,298.0L437.1,294.8L436.4,291.6L435.6,288.4L434.7,285.2L433.7,282.0L432.6,278.8L431.4,275.5L430.0,272.3L428.6,269.2L427.1,266.0L425.4,262.9L423.7,259.9L421.8,257.0L419.8,254.2L417.6,251.6L415.4,249.1L412.9,246.7L410.4,244.6L407.7,242.7L404.9,241.1L402.0,239.8L398.9,238.7L395.8,238.0L392.5,237.6L389.1,237.5L385.7,237.9L382.2,238.6L378.6,239.7L375.1,241.1Z" fill="#c1b355"/>
<path d="M374.7,231.5L378.5,230.8L382.5,230.3L386.5,230.1L390.5,230.1L394.4,230.4L398.4,230.9L402.3,231.8L406.0,232.9L409.7,234.3L413.3,235.9L416.7,237.8L420.0,239.9L423.1,242.3L426.1,244.8L428.9,247.6L431.6,250.5L434.1,253.6L436.4,256.9L438.5,260.2L440.5,263.7L442.4,267.2L444.1,270.8L445.6,274.4L447.0,278.1L448.2,281.8L449.3,285.6L450.2,289.3L451.0,293.1L451.6,296.9L452.1,300.7L452.4,304.6L452.5,308.4L452.3,312.4L452.0,316.4L451.4,320.6L437.9,318.7L438.4,314.9L438.6,311.3L438.6,307.9L438.4,304.5L438.1,301.3L437.7,298.0L437.1,294.8L436.4,291.6L435.6,288.4L434.7,285.2L433.7,282.0L432.6,278.8L431.4,275.5L430.0,272.3L428.6,269.2L427.1,266.0L425.4,262.9L423.7,259.9L421.8,257.0L419.8,254.2L417.6,251.6L415.4,249.1L412.9,246.7L410.4,244.6L407.7,242.7L404.9,241.1L402.0,239.8L398.9,238.7L395.8,238.0L392.5,237.6L389.1,237.5L385.7,237.9L382.2,238.6L378.6,239.7L375.1,241.1Z" fill="#c0b254"/>
<path d="M374.7,232.1L378.5,231.3L382.5,230.8L386.4,230.5L390.4,230.5L394.3,230.7L398.3,231.3L402.1,232.1L405.8,233.2L409.5,234.6L413.0,236.2L416.4,238.1L419.7,240.2L422.8,242.6L425.7,245.1L428.5,247.9L431.1,250.8L433.6,253.9L435.9,257.1L438.0,260.5L440.0,263.9L441.8,267.4L443.4,271.0L444.9,274.7L446.3,278.3L447.5,282.0L448.6,285.7L449.5,289.5L450.2,293.2L450.8,297.0L451.3,300.7L451.5,304.6L451.6,308.4L451.5,312.3L451.2,316.4L450.6,320.5L437.9,318.7L438.4,314.9L438.6,311.3L438.6,307.9L438.4,304.5L438.1,301.3L437.7,298.0L437.1,294.8L436.4,291.6L435.6,288.4L434.7,285.2L433.7,282.0L432.6,278.8L431.4,275.5L430.0,272.3L428.6,269.2L427.1,266.0L425.4,262.9L423.7,259.9L421.8,257.0L419.8,254.2L417.6,251.6L415.4,249.1L412.9,246.7L410.4,244.6L407.7,242.7L404.9,241.1L402.0,239.8L398.9,238.7L395.8,238.0L392.5,237.6L389.1,237.5L385.7,237.9L382.2,238.6L378.6,239.7L375.1,241.1Z" fill="#bfb153"/>
<path d="M374.7,232.6L378.6,231.8L382.4,231.2L386.4,230.9L390.3,230.9L394.2,231.1L398.1,231.6L401.9,232.5L405.7,233.6L409.3,234.9L412.8,236.5L416.1,238.4L419.4,240.5L422.4,242.9L425.4,245.4L428.1,248.2L430.7,251.1L433.1,254.2L435.4,257.4L437.5,260.7L439.4,264.2L441.2,267.7L442.8,271.3L444.3,274.9L445.6,278.5L446.8,282.2L447.8,285.9L448.7,289.6L449.4,293.3L450.0,297.0L450.5,300.8L450.7,304.5L450.8,308.4L450.7,312.3L450.3,316.3L449.8,320.4L437.9,318.7L438.4,314.9L438.6,311.3L438.6,307.9L438.4,304.5L438.1,301.3L437.7,298.0L437.1,294.8L436.4,291.6L435.6,288.4L434.7,285.2L433.7,282.0L432.6,278.8L431.4,275.5L430.0,272.3L428.6,269.2L427.1,266.0L425.4,262.9L423.7,259.9L421.8,257.0L419.8,254.2L417.6,251.6L415.4,249.1L412.9,246.7L410.4,244.6L407.7,242.7L404.9,241.1L402.0,239.8L398.9,238.7L395.8,238.0L392.5,237.6L389.1,237.5L385.7,237.9L382.2,238.6L378.6,239.7L375.1,241.1Z" fill="#beb052"/>
<path d="M374.8,233.2L378.6,232.3L382.4,231.7L386.3,231.3L390.2,231.2L394.2,231.5L398.0,232.0L401.8,232.8L405.5,233.9L409.0,235.2L412.5,236.9L415.8,238.7L419.0,240.8L422.1,243.2L425.0,245.7L427.7,248.5L430.3,251.4L432.6,254.5L434.9,257.7L436.9,261.0L438.8,264.4L440.6,267.9L442.2,271.5L443.6,275.1L444.9,278.7L446.0,282.4L447.1,286.0L447.9,289.7L448.6,293.4L449.2,297.1L449.7,300.8L449.9,304.5L450.0,308.3L449.9,312.2L449.5,316.2L448.9,320.3L437.9,318.7L438.4,314.9L438.6,311.3L438.6,307.9L438.4,304.5L438.1,301.3L437.7,298.0L437.1,294.8L436.4,291.6L435.6,288.4L434.7,285.2L433.7,282.0L432.6,278.8L431.4,275.5L430.0,272.3L428.6,269.2L427.1,266.0L425.4,262.9L423.7,259.9L421.8,257.0L419.8,254.2L417.6,251.6L415.4,249.1L412.9,246.7L410.4,244.6L407.7,242.7L404.9,241.1L402.0,239.8L398.9,238.7L395.8,238.0L392.5,237.6L389.1,237.5L385.7,237.9L382.2,238.6L378.6,239.7L375.1,241.1Z" fill="#bdaf52"/>
<path d="M374.8,233.8L378.6,232.8L382.4,232.1L386.3,231.7L390.2,231.6L394.1,231.8L397.9,232.3L401.6,233.1L405.3,234.2L408.8,235.6L412.3,237.2L415.6,239.0L418.7,241.2L421.8,243.5L424.6,246.0L427.3,248.8L429.8,251.7L432.2,254.8L434.4,258.0L436.4,261.3L438.3,264.7L440.0,268.2L441.5,271.7L442.9,275.3L444.2,278.9L445.3,282.6L446.3,286.2L447.2,289.8L447.9,293.5L448.4,297.2L448.8,300.8L449.1,304.5L449.2,308.3L449.0,312.1L448.7,316.1L448.1,320.1L437.9,318.7L438.4,314.9L438.6,311.3L438.6,307.9L438.4,304.5L438.1,301.3L437.7,298.0L437.1,294.8L436.4,291.6L435.6,288.4L434.7,285.2L433.7,282.0L432.6,278.8L431.4,275.5L430.0,272.3L428.6,269.2L427.1,266.0L425.4,262.9L423.7,259.9L421.8,257.0L419.8,254.2L417.6,251.6L415.4,249.1L412.9,246.7L410.4,244.6L407.7,242.7L404.9,241.1L402.0,239.8L398.9,238.7L395.8,238.0L392.5,237.6L389.1,237.5L385.7,237.9L382.2,238.6L378.6,239.7L375.1,241.1Z" fill="#bcae51"/>
<path d="M374.8,234.3L378.6,233.3L382.4,232.6L386.2,232.2L390.1,232.0L394.0,232.2L397.7,232.7L401.5,233.5L405.1,234.5L408.6,235.9L412.0,237.5L415.3,239.4L418.4,241.5L421.4,243.8L424.3,246.3L426.9,249.1L429.4,252.0L431.7,255.1L433.9,258.3L435.9,261.6L437.7,265.0L439.4,268.4L440.9,272.0L442.3,275.5L443.5,279.1L444.6,282.7L445.6,286.4L446.4,290.0L447.1,293.6L447.6,297.2L448.0,300.9L448.3,304.5L448.3,308.3L448.2,312.1L447.8,316.0L447.3,320.0L437.9,318.7L438.4,314.9L438.6,311.3L438.6,307.9L438.4,304.5L438.1,301.3L437.7,298.0L437.1,294.8L436.4,291.6L435.6,288.4L434.7,285.2L433.7,282.0L432.6,278.8L431.4,275.5L430.0,272.3L428.6,269.2L427.1,266.0L425.4,262.9L423.7,259.9L421.8,257.0L419.8,254.2L417.6,251.6L415.4,249.1L412.9,246.7L410.4,244.6L407.7,242.7L404.9,241.1L402.0,239.8L398.9,238.7L395.8,238.0L392.5,237.6L389.1,237.5L385.7,237.9L382.2,238.6L378.6,239.7L375.1,241.1Z" fill="#bbad50"/>
<path d="M374.8,234.9L378.6,233.8L382.4,233.1L386.2,232.6L390.0,232.4L393.9,232.5L397.6,233.0L401.3,233.8L404.9,234.9L408.4,236.2L411.7,237.8L415.0,239.7L418.1,241.8L421.1,244.1L423.9,246.6L426.5,249.4L428.9,252.3L431.2,255.3L433.3,258.5L435.3,261.8L437.1,265.2L438.8,268.7L440.2,272.2L441.6,275.8L442.8,279.3L443.9,282.9L444.8,286.5L445.6,290.1L446.3,293.7L446.8,297.3L447.2,300.9L447.4,304.5L447.5,308.2L447.4,312.0L447.0,315.9L446.4,319.9L437.9,318.7L438.4,314.9L438.6,311.3L438.6,307.9L438.4,304.5L438.1,301.3L437.7,298.0L437.1,294.8L436.4,291.6L435.6,288.4L434.7,285.2L433.7,282.0L432.6,278.8L431.4,275.5L430.0,272.3L428.6,269.2L427.1,266.0L425.4,262.9L423.7,259.9L421.8,257.0L419.8,254.2L417.6,251.6L415.4,249.1L412.9,246.7L410.4,244.6L407.7,242.7L404.9,241.1L402.0,239.8L398.9,238.7L395.8,238.0L392.5,237.6L389.1,237.5L385.7,237.9L382.2,238.6L378.6,239.7L375.1,241.1Z" fill="#baac4f"/>
<path d="M374.9,235.5L378.6,234.3L382.4,233.5L386.2,233.0L390.0,232.8L393.8,232.9L397.5,233.4L401.1,234.1L404.7,235.2L408.1,236.5L411.5,238.1L414.7,240.0L417.8,242.1L420.7,244.4L423.5,246.9L426.1,249.6L428.5,252.6L430.7,255.6L432.8,258.8L434.8,262.1L436.5,265.5L438.1,269.0L439.6,272.5L440.9,276.0L442.1,279.5L443.1,283.1L444.1,286.7L444.8,290.2L445.5,293.8L446.0,297.3L446.4,300.9L446.6,304.5L446.7,308.2L446.5,312.0L446.2,315.8L445.6,319.8L437.9,318.7L438.4,314.9L438.6,311.3L438.6,307.9L438.4,304.5L438.1,301.3L437.7,298.0L437.1,294.8L436.4,291.6L435.6,288.4L434.7,285.2L433.7,282.0L432.6,278.8L431.4,275.5L430.0,272.3L428.6,269.2L427.1,266.0L425.4,262.9L423.7,259.9L421.8,257.0L419.8,254.2L417.6,251.6L415.4,249.1L412.9,246.7L410.4,244.6L407.7,242.7L404.9,241.1L402.0,239.8L398.9,238.7L395.8,238.0L392.5,237.6L389.1,237.5L385.7,237.9L382.2,238.6L378.6,239.7L375.1,241.1Z" fill="#b9ab4e"/>
<path d="M374.9,236.1L378.6,234.9L382.3,234.0L386.1,233.4L389.9,233.2L393.7,233.3L397.4,233.7L401.0,234.5L404.5,235.5L407.9,236.8L411.2,238.4L414.4,240.3L417.5,242.4L420.4,244.7L423.2,247.2L425.7,249.9L428.1,252.9L430.3,255.9L432.3,259.1L434.2,262.4L436.0,265.8L437.5,269.2L439.0,272.7L440.2,276.2L441.4,279.7L442.4,283.3L443.3,286.8L444.1,290.3L444.7,293.9L445.2,297.4L445.6,301.0L445.8,304.5L445.8,308.2L445.7,311.9L445.3,315.7L444.8,319.7L437.9,318.7L438.4,314.9L438.6,311.3L438.6,307.9L438.4,304.5L438.1,301.3L437.7,298.0L437.1,294.8L436.4,291.6L435.6,288.4L434.7,285.2L433.7,282.0L432.6,278.8L431.4,275.5L430.0,272.3L428.6,269.2L427.1,266.0L425.4,262.9L423.7,259.9L421.8,257.0L419.8,254.2L417.6,251.6L415.4,249.1L412.9,246.7L410.4,244.6L407.7,242.7L404.9,241.1L402.0,239.8L398.9,238.7L395.8,238.0L392.5,237.6L389.1,237.5L385.7,237.9L382.2,238.6L378.6,239.7L375.1,241.1Z" fill="#b6a84d"/>
<path d="M374.9,236.6L378.6,235.3L382.3,234.4L386.1,233.8L389.8,233.6L393.5,233.7L397.2,234.1L400.8,234.8L404.3,235.9L407.7,237.2L410.9,238.8L414.1,240.7L417.1,242.7L420.0,245.0L422.7,247.5L425.2,250.3L427.5,253.2L429.7,256.3L431.7,259.4L433.6,262.7L435.3,266.1L436.9,269.5L438.3,273.0L439.5,276.4L440.7,280.0L441.7,283.5L442.5,287.0L443.3,290.5L443.9,294.0L444.4,297.5L444.8,301.0L445.0,304.5L445.1,308.1L444.9,311.8L444.6,315.6L444.0,319.5L437.9,318.7L438.4,314.9L438.6,311.3L438.6,307.9L438.4,304.5L438.1,301.3L437.7,298.0L437.1,294.8L436.4,291.6L435.6,288.4L434.7,285.2L433.7,282.0L432.6,278.8L431.4,275.5L430.0,272.3L428.6,269.2L427.1,266.0L425.4,262.9L423.7,259.9L421.8,257.0L419.8,254.2L417.6,251.6L415.4,249.1L412.9,246.7L410.4,244.6L407.7,242.7L404.9,241.1L402.0,239.8L398.9,238.7L395.8,238.0L392.5,237.6L389.1,237.5L385.7,237.9L382.2,238.6L378.6,239.7L375.1,241.1Z" fill="#b2a44b"/>
<path d="M374.9,237.1L378.6,235.8L382.3,234.9L386.0,234.3L389.7,234.0L393.4,234.0L397.1,234.5L400.6,235.2L404.1,236.3L407.4,237.6L410.6,239.2L413.7,241.0L416.7,243.1L419.5,245.4L422.2,247.9L424.7,250.7L427.0,253.6L429.1,256.6L431.1,259.8L433.0,263.0L434.7,266.4L436.2,269.8L437.6,273.2L438.8,276.7L439.9,280.2L440.9,283.6L441.8,287.1L442.5,290.6L443.1,294.1L443.7,297.5L444.0,301.0L444.2,304.5L444.3,308.1L444.2,311.8L443.8,315.5L443.2,319.4L437.9,318.7L438.4,314.9L438.6,311.3L438.6,307.9L438.4,304.5L438.1,301.3L437.7,298.0L437.1,294.8L436.4,291.6L435.6,288.4L434.7,285.2L433.7,282.0L432.6,278.8L431.4,275.5L430.0,272.3L428.6,269.2L427.1,266.0L425.4,262.9L423.7,259.9L421.8,257.0L419.8,254.2L417.6,251.6L415.4,249.1L412.9,246.7L410.4,244.6L407.7,242.7L404.9,241.1L402.0,239.8L398.9,238.7L395.8,238.0L392.5,237.6L389.1,237.5L385.7,237.9L382.2,238.6L378.6,239.7L375.1,241.1Z" fill="#ada048"/>
<path d="M375.0,237.7L378.6,236.3L382.3,235.3L386.0,234.7L389.7,234.4L393.3,234.4L396.9,234.9L400.4,235.6L403.8,236.6L407.1,238.0L410.3,239.6L413.4,241.4L416.3,243.5L419.1,245.8L421.8,248.3L424.2,251.0L426.5,253.9L428.6,257.0L430.5,260.1L432.4,263.3L434.0,266.7L435.5,270.1L436.9,273.5L438.1,276.9L439.2,280.4L440.2,283.8L441.0,287.3L441.8,290.7L442.4,294.2L442.9,297.6L443.2,301.1L443.5,304.5L443.5,308.1L443.4,311.7L443.0,315.4L442.5,319.3L437.9,318.7L438.4,314.9L438.6,311.3L438.6,307.9L438.4,304.5L438.1,301.3L437.7,298.0L437.1,294.8L436.4,291.6L435.6,288.4L434.7,285.2L433.7,282.0L432.6,278.8L431.4,275.5L430.0,272.3L428.6,269.2L427.1,266.0L425.4,262.9L423.7,259.9L421.8,257.0L419.8,254.2L417.6,251.6L415.4,249.1L412.9,246.7L410.4,244.6L407.7,242.7L404.9,241.1L402.0,239.8L398.9,238.7L395.8,238.0L392.5,237.6L389.1,237.5L385.7,237.9L382.2,238.6L378.6,239.7L375.1,241.1Z" fill="#a99c46"/>
<path d="M375.0,238.2L378.6,236.8L382.3,235.8L385.9,235.1L389.6,234.8L393.2,234.8L396.8,235.2L400.2,236.0L403.6,237.0L406.9,238.3L410.0,239.9L413.0,241.8L415.9,243.9L418.7,246.1L421.3,248.6L423.7,251.4L425.9,254.3L428.0,257.3L429.9,260.4L431.7,263.7L433.4,267.0L434.8,270.3L436.2,273.7L437.4,277.2L438.5,280.6L439.4,284.0L440.3,287.4L441.0,290.8L441.6,294.3L442.1,297.7L442.5,301.1L442.7,304.5L442.7,308.1L442.6,311.6L442.3,315.4L441.7,319.2L437.9,318.7L438.4,314.9L438.6,311.3L438.6,307.9L438.4,304.5L438.1,301.3L437.7,298.0L437.1,294.8L436.4,291.6L435.6,288.4L434.7,285.2L433.7,282.0L432.6,278.8L431.4,275.5L430.0,272.3L428.6,269.2L427.1,266.0L425.4,262.9L423.7,259.9L421.8,257.0L419.8,254.2L417.6,251.6L415.4,249.1L412.9,246.7L410.4,244.6L407.7,242.7L404.9,241.1L402.0,239.8L398.9,238.7L395.8,238.0L392.5,237.6L389.1,237.5L385.7,237.9L382.2,238.6L378.6,239.7L375.1,241.1Z" fill="#9e9140"/>
<path d="M375.0,238.6L378.6,237.2L382.3,236.2L385.9,235.5L389.5,235.2L393.1,235.2L396.7,235.6L400.1,236.3L403.4,237.3L406.7,238.6L409.8,240.2L412.8,242.1L415.6,244.1L418.4,246.4L420.9,248.9L423.3,251.7L425.5,254.6L427.6,257.6L429.5,260.7L431.2,263.9L432.8,267.2L434.3,270.6L435.6,273.9L436.8,277.4L437.9,280.8L438.8,284.2L439.7,287.6L440.4,290.9L441.0,294.3L441.5,297.7L441.8,301.1L442.1,304.5L442.1,308.0L442.0,311.6L441.7,315.3L441.1,319.1L437.9,318.7L438.4,314.9L438.6,311.3L438.6,307.9L438.4,304.5L438.1,301.3L437.7,298.0L437.1,294.8L436.4,291.6L435.6,288.4L434.7,285.2L433.7,282.0L432.6,278.8L431.4,275.5L430.0,272.3L428.6,269.2L427.1,266.0L425.4,262.9L423.7,259.9L421.8,257.0L419.8,254.2L417.6,251.6L415.4,249.1L412.9,246.7L410.4,244.6L407.7,242.7L404.9,241.1L402.0,239.8L398.9,238.7L395.8,238.0L392.5,237.6L389.1,237.5L385.7,237.9L382.2,238.6L378.6,239.7L375.1,241.1Z" fill="#8a7f38"/>
<path d="M375.0,239.1L378.6,237.6L382.2,236.5L385.9,235.8L389.5,235.5L393.1,235.5L396.5,235.9L399.9,236.6L403.3,237.6L406.5,238.9L409.5,240.5L412.5,242.4L415.3,244.4L418.0,246.7L420.6,249.2L422.9,252.0L425.1,254.8L427.1,257.8L429.0,261.0L430.7,264.2L432.3,267.5L433.7,270.8L435.0,274.2L436.2,277.5L437.3,280.9L438.2,284.3L439.1,287.7L439.8,291.0L440.3,294.4L440.8,297.8L441.2,301.1L441.4,304.5L441.5,308.0L441.4,311.6L441.1,315.2L440.5,319.0L437.9,318.7L438.4,314.9L438.6,311.3L438.6,307.9L438.4,304.5L438.1,301.3L437.7,298.0L437.1,294.8L436.4,291.6L435.6,288.4L434.7,285.2L433.7,282.0L432.6,278.8L431.4,275.5L430.0,272.3L428.6,269.2L427.1,266.0L425.4,262.9L423.7,259.9L421.8,257.0L419.8,254.2L417.6,251.6L415.4,249.1L412.9,246.7L410.4,244.6L407.7,242.7L404.9,241.1L402.0,239.8L398.9,238.7L395.8,238.0L392.5,237.6L389.1,237.5L385.7,237.9L382.2,238.6L378.6,239.7L375.1,241.1Z" fill="#786d2e"/>
<path d="M375.0,239.5L378.6,238.0L382.2,236.9L385.8,236.2L389.4,235.8L393.0,235.8L396.4,236.2L399.8,236.9L403.1,237.9L406.2,239.2L409.3,240.8L412.2,242.7L415.0,244.7L417.7,247.0L420.2,249.5L422.5,252.2L424.6,255.1L426.6,258.1L428.5,261.2L430.2,264.4L431.8,267.7L433.2,271.0L434.5,274.4L435.6,277.7L436.7,281.1L437.6,284.5L438.4,287.8L439.1,291.1L439.7,294.5L440.2,297.8L440.6,301.2L440.8,304.5L440.9,308.0L440.8,311.5L440.4,315.1L439.9,318.9L437.9,318.7L438.4,314.9L438.6,311.3L438.6,307.9L438.4,304.5L438.1,301.3L437.7,298.0L437.1,294.8L436.4,291.6L435.6,288.4L434.7,285.2L433.7,282.0L432.6,278.8L431.4,275.5L430.0,272.3L428.6,269.2L427.1,266.0L425.4,262.9L423.7,259.9L421.8,257.0L419.8,254.2L417.6,251.6L415.4,249.1L412.9,246.7L410.4,244.6L407.7,242.7L404.9,241.1L402.0,239.8L398.9,238.7L395.8,238.0L392.5,237.6L389.1,237.5L385.7,237.9L382.2,238.6L378.6,239.7L375.1,241.1Z" fill="#4e471d"/>
<path d="M375.1,240.1L378.6,238.6L382.2,237.4L385.8,236.7L389.3,236.3L392.8,236.2L396.3,236.6L399.6,237.3L402.8,238.3L406.0,239.7L409.0,241.2L411.8,243.1L414.6,245.2L417.2,247.4L419.7,249.9L422.0,252.6L424.1,255.5L426.0,258.5L427.8,261.6L429.5,264.8L431.1,268.0L432.5,271.3L433.7,274.7L434.9,278.0L435.9,281.3L436.8,284.7L437.6,288.0L438.3,291.3L438.9,294.6L439.4,297.9L439.7,301.2L440.0,304.5L440.0,307.9L439.9,311.4L439.6,315.1L439.1,318.8L437.9,318.7L438.4,314.9L438.6,311.3L438.6,307.9L438.4,304.5L438.1,301.3L437.7,298.0L437.1,294.8L436.4,291.6L435.6,288.4L434.7,285.2L433.7,282.0L432.6,278.8L431.4,275.5L430.0,272.3L428.6,269.2L427.1,266.0L425.4,262.9L423.7,259.9L421.8,257.0L419.8,254.2L417.6,251.6L415.4,249.1L412.9,246.7L410.4,244.6L407.7,242.7L404.9,241.1L402.0,239.8L398.9,238.7L395.8,238.0L392.5,237.6L389.1,237.5L385.7,237.9L382.2,238.6L378.6,239.7L375.1,241.1Z" fill="#171508"/>
<path d="M375.1,240.4L378.6,238.8L382.2,237.6L385.8,236.9L389.3,236.5L392.8,236.4L396.2,236.8L399.5,237.5L402.7,238.5L405.8,239.8L408.8,241.4L411.7,243.3L414.4,245.3L417.0,247.6L419.5,250.1L421.7,252.8L423.8,255.7L425.7,258.7L427.5,261.8L429.2,264.9L430.7,268.2L432.1,271.5L433.4,274.8L434.5,278.1L435.5,281.4L436.4,284.8L437.2,288.1L437.9,291.4L438.5,294.6L439.0,297.9L439.3,301.2L439.6,304.5L439.6,307.9L439.5,311.4L439.2,315.0L438.7,318.8L437.9,318.7L438.4,314.9L438.6,311.3L438.6,307.9L438.4,304.5L438.1,301.3L437.7,298.0L437.1,294.8L436.4,291.6L435.6,288.4L434.7,285.2L433.7,282.0L432.6,278.8L431.4,275.5L430.0,272.3L428.6,269.2L427.1,266.0L425.4,262.9L423.7,259.9L421.8,257.0L419.8,254.2L417.6,251.6L415.4,249.1L412.9,246.7L410.4,244.6L407.7,242.7L404.9,241.1L402.0,239.8L398.9,238.7L395.8,238.0L392.5,237.6L389.1,237.5L385.7,237.9L382.2,238.6L378.6,239.7L375.1,241.1Z" fill="#000000"/>
<path d="M375.1,240.6L378.6,239.1L382.2,238.0L385.7,237.2L389.2,236.8L392.7,236.8L396.0,237.2L399.3,237.9L402.5,238.9L405.5,240.3L408.4,241.9L411.2,243.7L413.9,245.8L416.5,248.1L418.9,250.6L421.1,253.3L423.1,256.1L425.0,259.1L426.8,262.2L428.5,265.3L430.0,268.5L431.4,271.8L432.7,275.0L433.9,278.3L434.9,281.6L435.8,284.9L436.7,288.2L437.4,291.4L438.0,294.7L438.5,297.9L438.9,301.2L439.2,304.5L439.3,307.9L439.2,311.4L438.9,315.0L438.4,318.7L437.9,318.7L438.4,314.9L438.6,311.3L438.6,307.9L438.4,304.5L438.1,301.3L437.7,298.0L437.1,294.8L436.4,291.6L435.6,288.4L434.7,285.2L433.7,282.0L432.6,278.8L431.4,275.5L430.0,272.3L428.6,269.2L427.1,266.0L425.4,262.9L423.7,259.9L421.8,257.0L419.8,254.2L417.6,251.6L415.4,249.1L412.9,246.7L410.4,244.6L407.7,242.7L404.9,241.1L402.0,239.8L398.9,238.7L395.8,238.0L392.5,237.6L389.1,237.5L385.7,237.9L382.2,238.6L378.6,239.7L375.1,241.1Z" fill="#000000"/>
<path d="M375.1,240.9L378.6,239.4L382.2,238.3L385.7,237.5L389.2,237.2L392.6,237.2L395.9,237.6L399.1,238.3L402.2,239.4L405.2,240.7L408.1,242.3L410.8,244.2L413.4,246.3L415.9,248.6L418.2,251.1L420.4,253.7L422.4,256.6L424.4,259.5L426.1,262.5L427.8,265.7L429.3,268.8L430.7,272.0L432.0,275.3L433.2,278.5L434.3,281.8L435.3,285.0L436.1,288.3L436.9,291.5L437.6,294.7L438.1,298.0L438.5,301.2L438.8,304.5L438.9,307.9L438.9,311.4L438.6,314.9L438.2,318.7L437.9,318.7L438.4,314.9L438.6,311.3L438.6,307.9L438.4,304.5L438.1,301.3L437.7,298.0L437.1,294.8L436.4,291.6L435.6,288.4L434.7,285.2L433.7,282.0L432.6,278.8L431.4,275.5L430.0,272.3L428.6,269.2L427.1,266.0L425.4,262.9L423.7,259.9L421.8,257.0L419.8,254.2L417.6,251.6L415.4,249.1L412.9,246.7L410.4,244.6L407.7,242.7L404.9,241.1L402.0,239.8L398.9,238.7L395.8,238.0L392.5,237.6L389.1,237.5L385.7,237.9L382.2,238.6L378.6,239.7L375.1,241.1Z" fill="#000000"/>
<ellipse cx="374.6" cy="229.2" rx="5.4" ry="11.7" fill="#a99b48"/>
<ellipse cx="374.6" cy="226.0" rx="5.4" ry="8.4" fill="#6cc0b5"/>
<line x1="375" y1="219.4" x2="375" y2="240" stroke="#0a0a0a" stroke-width="1.3"/>
<line x1="136.7" y1="48.0" x2="172.1" y2="165.9" stroke="#2a2a2a" stroke-width="0.9"/>
<line x1="178.2" y1="174.5" x2="350.9" y2="297.2" stroke="#2a2a2a" stroke-width="0.9"/>
<line x1="114.3" y1="289.9" x2="350.7" y2="149.0" stroke="#5050ff" stroke-width="1.0"/>
<line x1="359.3" y1="142.0" x2="449.8" y2="46.5" stroke="#5050ff" stroke-width="1.0"/>
<rect x="131.7" y="39.2" width="6.8" height="6.8" fill="#000"/>
<rect x="170.3" y="167.9" width="6.8" height="6.8" fill="#000"/>
<rect x="352.1" y="297.0" width="6.8" height="6.8" fill="#000"/>
<rect x="106.1" y="290.9" width="6.8" height="6.8" fill="#0000ff"/>
<rect x="352.1" y="142.7" width="6.8" height="6.8" fill="#0000ff"/>
<rect x="450.3" y="39.0" width="6.8" height="6.8" fill="#0000ff"/>
<g stroke="#111" fill="none">
<path d="M60.4,9.4V339.4" stroke-width="1.45"/>
<path d="M60.4,10.1H491.5M60.4,332.6H491.5" stroke-width="1.3"/>
<path d="M84.3,332.6v3.8M84.3,10.1v3.8M108.3,332.6v6.8M108.3,10.1v6.5M132.2,332.6v3.8M132.2,10.1v3.8M156.2,332.6v6.8M156.2,10.1v6.5M180.2,332.6v3.8M180.2,10.1v3.8M204.1,332.6v6.8M204.1,10.1v6.5M228.1,332.6v3.8M228.1,10.1v3.8M252.0,332.6v6.8M252.0,10.1v6.5M275.9,332.6v3.8M275.9,10.1v3.8M299.9,332.6v6.8M299.9,10.1v6.5M323.8,332.6v3.8M323.8,10.1v3.8M347.8,332.6v6.8M347.8,10.1v6.5M371.8,332.6v3.8M371.8,10.1v3.8M395.7,332.6v6.8M395.7,10.1v6.5M419.7,332.6v3.8M419.7,10.1v3.8M443.6,332.6v6.8M443.6,10.1v6.5M467.6,332.6v3.8M467.6,10.1v3.8M491.5,332.6v6.8" stroke-width="1.25"/>
<path d="M60.4,332.6h-3.2M60.4,300.4h-5.6M60.4,268.1h-3.2M60.4,235.9h-5.6M60.4,203.6h-3.2M60.4,171.4h-5.6M60.4,139.1h-3.2M60.4,106.9h-5.6M60.4,74.6h-3.2M60.4,42.4h-5.6M60.4,10.1h-3.2" stroke-width="1.05"/>
</g>
<g stroke="#0000ff" fill="none">
<path d="M491.5,9.4V333.2" stroke-width="1.45"/>
<path d="M491.5,332.6h3.5M491.5,300.4h6.4M491.5,268.1h3.5M491.5,235.9h6.4M491.5,203.6h3.5M491.5,171.4h6.4M491.5,139.1h3.5M491.5,106.9h6.4M491.5,74.6h3.5M491.5,42.4h6.4M491.5,10.1h3.5" stroke-width="1.05"/>
</g>
<path d="M491.5,333.2v6.2" stroke="#111" stroke-width="1.25"/>
<g font-size="12.2" fill="#111" stroke="#111" stroke-width="0.3">
<text x="59.6" y="353.2" text-anchor="middle">−0.02</text>
<text x="108.3" y="353.2" text-anchor="middle">0.00</text>
<text x="156.2" y="353.2" text-anchor="middle">0.02</text>
<text x="204.1" y="353.2" text-anchor="middle">0.04</text>
<text x="252.0" y="353.2" text-anchor="middle">0.06</text>
<text x="299.9" y="353.2" text-anchor="middle">0.08</text>
<text x="347.8" y="353.2" text-anchor="middle">0.10</text>
<text x="395.7" y="353.2" text-anchor="middle">0.12</text>
<text x="443.6" y="353.2" text-anchor="middle">0.14</text>
<text x="491.5" y="353.2" text-anchor="middle">0.16</text>
<text x="49.6" y="303.8" text-anchor="end">120</text>
<text x="49.6" y="239.3" text-anchor="end">140</text>
<text x="49.6" y="174.8" text-anchor="end">160</text>
<text x="49.6" y="110.3" text-anchor="end">180</text>
<text x="49.6" y="45.8" text-anchor="end">200</text>
</g>
<g font-size="12.1" fill="#0000ff" stroke="#0000ff" stroke-width="0.35">
<text x="502.8" y="303.8">0</text>
<text x="502.8" y="239.3">50</text>
<text x="502.8" y="174.8">100</text>
<text x="502.8" y="110.3">150</text>
<text x="502.8" y="45.8">200</text>
</g>
<text transform="translate(21,172.3) rotate(-90)" font-size="20.2" text-anchor="middle" fill="#000">Diameter(nm)</text>
<text transform="translate(528.8,164) rotate(90)" font-size="16" text-anchor="middle" fill="#0000ff">Thickness(nm)</text>
<text x="242" y="369.8" font-family="'Liberation Serif', 'DejaVu Serif', serif" font-style="italic" font-size="21" fill="#000">ε</text>
<text x="251.2" y="380" font-size="15" fill="#000">bent</text>
<line x1="101.6" y1="84.3" x2="126.7" y2="52.8" stroke="#111" stroke-width="1.5"/><path d="M129.5,49.3L127.1,57.0L126.9,52.5L122.6,53.4Z" fill="#111"/>
<line x1="416.7" y1="273.7" x2="366.9" y2="298.1" stroke="#111" stroke-width="1.5"/><path d="M372.3,292.1L366.9,298.1L375.0,297.5" fill="none" stroke="#111" stroke-width="1.2000000000000002"/>
<line x1="339.1" y1="64.0" x2="420.7" y2="49.1" stroke="#2020ff" stroke-width="1.6"/><path d="M425.3,48.3L418.2,52.8L421.1,49.1L417.1,46.5Z" fill="#2020ff"/>
<g font-size="9.4" fill="#262626" fill-opacity="0.9" stroke="#262626" stroke-opacity="0.5" stroke-width="0.2">
<text x="95.4" y="103.4" textLength="28.2" lengthAdjust="spacingAndGlyphs">160nm</text>
<text x="247.4" y="38.2" textLength="30.6" lengthAdjust="spacingAndGlyphs">Si NWs</text>
<text x="244.9" y="55.3" textLength="28.9" lengthAdjust="spacingAndGlyphs">200nm</text>
<text x="285.2" y="72.4" textLength="9.5" lengthAdjust="spacingAndGlyphs">Cr</text>
<text x="388" y="226.2" textLength="29" lengthAdjust="spacingAndGlyphs">120nm</text>
<text x="380" y="255.8" textLength="28.8" lengthAdjust="spacingAndGlyphs">100nm</text>
</g>
</svg>
</body></html>
